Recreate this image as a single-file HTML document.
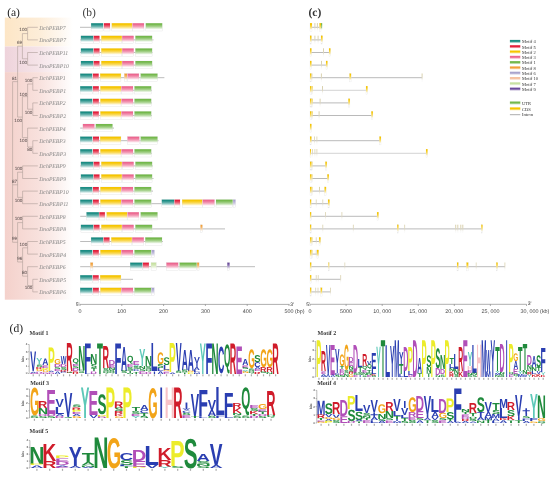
<!DOCTYPE html><html><head><meta charset="utf-8"><style>html,body{margin:0;padding:0;background:#fff;width:550px;height:478px;overflow:hidden}svg{display:block}</style></head><body>
<svg width="550" height="478" viewBox="0 0 550 478" text-rendering="geometricPrecision">
<defs><linearGradient id="gt" x1="0" y1="0" x2="0" y2="1"><stop offset="0" stop-color="#1b8c83"/><stop offset="0.14" stop-color="#1b8c83"/><stop offset="0.45" stop-color="#1b8c83" stop-opacity="0.62"/><stop offset="0.68" stop-color="#1b8c83" stop-opacity="0.22"/><stop offset="0.86" stop-color="#fff" stop-opacity="0"/></linearGradient>
<linearGradient id="gr" x1="0" y1="0" x2="0" y2="1"><stop offset="0" stop-color="#e3213d"/><stop offset="0.14" stop-color="#e3213d"/><stop offset="0.45" stop-color="#e3213d" stop-opacity="0.62"/><stop offset="0.68" stop-color="#e3213d" stop-opacity="0.22"/><stop offset="0.86" stop-color="#fff" stop-opacity="0"/></linearGradient>
<linearGradient id="gy" x1="0" y1="0" x2="0" y2="1"><stop offset="0" stop-color="#f6c500"/><stop offset="0.14" stop-color="#f6c500"/><stop offset="0.45" stop-color="#f6c500" stop-opacity="0.62"/><stop offset="0.68" stop-color="#f6c500" stop-opacity="0.22"/><stop offset="0.86" stop-color="#fff" stop-opacity="0"/></linearGradient>
<linearGradient id="gp" x1="0" y1="0" x2="0" y2="1"><stop offset="0" stop-color="#ec6790"/><stop offset="0.14" stop-color="#ec6790"/><stop offset="0.45" stop-color="#ec6790" stop-opacity="0.62"/><stop offset="0.68" stop-color="#ec6790" stop-opacity="0.22"/><stop offset="0.86" stop-color="#fff" stop-opacity="0"/></linearGradient>
<linearGradient id="gg" x1="0" y1="0" x2="0" y2="1"><stop offset="0" stop-color="#74b84c"/><stop offset="0.14" stop-color="#74b84c"/><stop offset="0.45" stop-color="#74b84c" stop-opacity="0.62"/><stop offset="0.68" stop-color="#74b84c" stop-opacity="0.22"/><stop offset="0.86" stop-color="#fff" stop-opacity="0"/></linearGradient>
<linearGradient id="go" x1="0" y1="0" x2="0" y2="1"><stop offset="0" stop-color="#f2a03a"/><stop offset="0.14" stop-color="#f2a03a"/><stop offset="0.45" stop-color="#f2a03a" stop-opacity="0.62"/><stop offset="0.68" stop-color="#f2a03a" stop-opacity="0.22"/><stop offset="0.86" stop-color="#fff" stop-opacity="0"/></linearGradient>
<linearGradient id="gl" x1="0" y1="0" x2="0" y2="1"><stop offset="0" stop-color="#a9a3cd"/><stop offset="0.14" stop-color="#a9a3cd"/><stop offset="0.45" stop-color="#a9a3cd" stop-opacity="0.62"/><stop offset="0.68" stop-color="#a9a3cd" stop-opacity="0.22"/><stop offset="0.86" stop-color="#fff" stop-opacity="0"/></linearGradient>
<linearGradient id="gc" x1="0" y1="0" x2="0" y2="1"><stop offset="0" stop-color="#f6c2a3"/><stop offset="0.14" stop-color="#f6c2a3"/><stop offset="0.45" stop-color="#f6c2a3" stop-opacity="0.62"/><stop offset="0.68" stop-color="#f6c2a3" stop-opacity="0.22"/><stop offset="0.86" stop-color="#fff" stop-opacity="0"/></linearGradient>
<linearGradient id="gq" x1="0" y1="0" x2="0" y2="1"><stop offset="0" stop-color="#c7e1a3"/><stop offset="0.14" stop-color="#c7e1a3"/><stop offset="0.45" stop-color="#c7e1a3" stop-opacity="0.62"/><stop offset="0.68" stop-color="#c7e1a3" stop-opacity="0.22"/><stop offset="0.86" stop-color="#fff" stop-opacity="0"/></linearGradient>
<linearGradient id="gu" x1="0" y1="0" x2="0" y2="1"><stop offset="0" stop-color="#6a4c9c"/><stop offset="0.14" stop-color="#6a4c9c"/><stop offset="0.45" stop-color="#6a4c9c" stop-opacity="0.62"/><stop offset="0.68" stop-color="#6a4c9c" stop-opacity="0.22"/><stop offset="0.86" stop-color="#fff" stop-opacity="0"/></linearGradient><linearGradient id="st" x1="0" y1="0" x2="0" y2="1"><stop offset="0" stop-color="#1b8c83"/><stop offset="0.4" stop-color="#1b8c83"/><stop offset="0.75" stop-color="#1b8c83" stop-opacity="0.35"/><stop offset="1" stop-color="#fff" stop-opacity="0"/></linearGradient>
<linearGradient id="sr" x1="0" y1="0" x2="0" y2="1"><stop offset="0" stop-color="#e3213d"/><stop offset="0.4" stop-color="#e3213d"/><stop offset="0.75" stop-color="#e3213d" stop-opacity="0.35"/><stop offset="1" stop-color="#fff" stop-opacity="0"/></linearGradient>
<linearGradient id="sy" x1="0" y1="0" x2="0" y2="1"><stop offset="0" stop-color="#f6c500"/><stop offset="0.4" stop-color="#f6c500"/><stop offset="0.75" stop-color="#f6c500" stop-opacity="0.35"/><stop offset="1" stop-color="#fff" stop-opacity="0"/></linearGradient>
<linearGradient id="sp" x1="0" y1="0" x2="0" y2="1"><stop offset="0" stop-color="#ec6790"/><stop offset="0.4" stop-color="#ec6790"/><stop offset="0.75" stop-color="#ec6790" stop-opacity="0.35"/><stop offset="1" stop-color="#fff" stop-opacity="0"/></linearGradient>
<linearGradient id="sg" x1="0" y1="0" x2="0" y2="1"><stop offset="0" stop-color="#74b84c"/><stop offset="0.4" stop-color="#74b84c"/><stop offset="0.75" stop-color="#74b84c" stop-opacity="0.35"/><stop offset="1" stop-color="#fff" stop-opacity="0"/></linearGradient>
<linearGradient id="so" x1="0" y1="0" x2="0" y2="1"><stop offset="0" stop-color="#f2a03a"/><stop offset="0.4" stop-color="#f2a03a"/><stop offset="0.75" stop-color="#f2a03a" stop-opacity="0.35"/><stop offset="1" stop-color="#fff" stop-opacity="0"/></linearGradient>
<linearGradient id="sl" x1="0" y1="0" x2="0" y2="1"><stop offset="0" stop-color="#a9a3cd"/><stop offset="0.4" stop-color="#a9a3cd"/><stop offset="0.75" stop-color="#a9a3cd" stop-opacity="0.35"/><stop offset="1" stop-color="#fff" stop-opacity="0"/></linearGradient>
<linearGradient id="sc" x1="0" y1="0" x2="0" y2="1"><stop offset="0" stop-color="#f6c2a3"/><stop offset="0.4" stop-color="#f6c2a3"/><stop offset="0.75" stop-color="#f6c2a3" stop-opacity="0.35"/><stop offset="1" stop-color="#fff" stop-opacity="0"/></linearGradient>
<linearGradient id="sq" x1="0" y1="0" x2="0" y2="1"><stop offset="0" stop-color="#c7e1a3"/><stop offset="0.4" stop-color="#c7e1a3"/><stop offset="0.75" stop-color="#c7e1a3" stop-opacity="0.35"/><stop offset="1" stop-color="#fff" stop-opacity="0"/></linearGradient>
<linearGradient id="su" x1="0" y1="0" x2="0" y2="1"><stop offset="0" stop-color="#6a4c9c"/><stop offset="0.4" stop-color="#6a4c9c"/><stop offset="0.75" stop-color="#6a4c9c" stop-opacity="0.35"/><stop offset="1" stop-color="#fff" stop-opacity="0"/></linearGradient>
<linearGradient id="gpale" x1="0" y1="0" x2="0" y2="1"><stop offset="0" stop-color="#d8cfa8"/><stop offset="0.5" stop-color="#ddd6bd"/><stop offset="0.85" stop-color="#eee" stop-opacity="0.3"/></linearGradient>
<linearGradient id="bgO" x1="0" y1="0" x2="1" y2="0"><stop offset="0" stop-color="#fde6c6"/><stop offset="0.5" stop-color="#fdedd8"/><stop offset="0.78" stop-color="#fef6ec"/><stop offset="1" stop-color="#fff"/></linearGradient>
<linearGradient id="bgP" x1="0" y1="0" x2="1" y2="0"><stop offset="0" stop-color="#eed3db"/><stop offset="0.5" stop-color="#f5e4e8"/><stop offset="0.78" stop-color="#fbf3f5"/><stop offset="1" stop-color="#fff"/></linearGradient>
<linearGradient id="bgS" x1="0" y1="0" x2="1" y2="0"><stop offset="0" stop-color="#f4d1cb"/><stop offset="0.5" stop-color="#f8e1dd"/><stop offset="0.78" stop-color="#fcf1ef"/><stop offset="1" stop-color="#fff"/></linearGradient>
</defs>
<rect width="550" height="478" fill="#fff"/>
<rect x="4.8" y="17.6" width="68" height="28.9" fill="url(#bgO)"/>
<rect x="4.8" y="46.5" width="68" height="25.6" fill="url(#bgP)"/>
<rect x="4.8" y="72.1" width="68" height="227.6" fill="url(#bgS)"/>
<g stroke="#a99893" stroke-width="0.55" fill="none"><line x1="27.60" y1="27.30" x2="27.60" y2="39.90"/>
<line x1="27.60" y1="27.30" x2="37.80" y2="27.30"/>
<line x1="27.60" y1="39.90" x2="37.80" y2="39.90"/>
<line x1="27.60" y1="52.50" x2="27.60" y2="65.10"/>
<line x1="27.60" y1="52.50" x2="37.80" y2="52.50"/>
<line x1="27.60" y1="65.10" x2="37.80" y2="65.10"/>
<line x1="22.40" y1="33.60" x2="22.40" y2="58.80"/>
<line x1="22.40" y1="33.60" x2="27.60" y2="33.60"/>
<line x1="22.40" y1="58.80" x2="27.60" y2="58.80"/>
<line x1="32.80" y1="77.70" x2="32.80" y2="90.30"/>
<line x1="32.80" y1="77.70" x2="37.80" y2="77.70"/>
<line x1="32.80" y1="90.30" x2="37.80" y2="90.30"/>
<line x1="32.80" y1="102.90" x2="32.80" y2="115.50"/>
<line x1="32.80" y1="102.90" x2="37.80" y2="102.90"/>
<line x1="32.80" y1="115.50" x2="37.80" y2="115.50"/>
<line x1="27.60" y1="84.00" x2="27.60" y2="109.20"/>
<line x1="27.60" y1="84.00" x2="32.80" y2="84.00"/>
<line x1="27.60" y1="109.20" x2="32.80" y2="109.20"/>
<line x1="32.80" y1="140.70" x2="32.80" y2="153.30"/>
<line x1="32.80" y1="140.70" x2="37.80" y2="140.70"/>
<line x1="32.80" y1="153.30" x2="37.80" y2="153.30"/>
<line x1="27.60" y1="128.10" x2="27.60" y2="147.00"/>
<line x1="27.60" y1="128.10" x2="37.80" y2="128.10"/>
<line x1="27.60" y1="147.00" x2="32.80" y2="147.00"/>
<line x1="22.40" y1="96.60" x2="22.40" y2="137.55"/>
<line x1="22.40" y1="96.60" x2="27.60" y2="96.60"/>
<line x1="22.40" y1="137.55" x2="27.60" y2="137.55"/>
<line x1="17.60" y1="46.20" x2="17.60" y2="117.08"/>
<line x1="17.60" y1="46.20" x2="22.40" y2="46.20"/>
<line x1="17.60" y1="117.08" x2="22.40" y2="117.08"/>
<line x1="22.60" y1="165.90" x2="22.60" y2="178.50"/>
<line x1="22.60" y1="165.90" x2="37.80" y2="165.90"/>
<line x1="22.60" y1="178.50" x2="37.80" y2="178.50"/>
<line x1="22.60" y1="191.10" x2="22.60" y2="203.70"/>
<line x1="22.60" y1="191.10" x2="37.80" y2="191.10"/>
<line x1="22.60" y1="203.70" x2="37.80" y2="203.70"/>
<line x1="17.60" y1="172.20" x2="17.60" y2="197.40"/>
<line x1="17.60" y1="172.20" x2="22.60" y2="172.20"/>
<line x1="17.60" y1="197.40" x2="22.60" y2="197.40"/>
<line x1="22.60" y1="216.30" x2="22.60" y2="228.90"/>
<line x1="22.60" y1="216.30" x2="37.80" y2="216.30"/>
<line x1="22.60" y1="228.90" x2="37.80" y2="228.90"/>
<line x1="27.60" y1="241.50" x2="27.60" y2="254.10"/>
<line x1="27.60" y1="241.50" x2="37.80" y2="241.50"/>
<line x1="27.60" y1="254.10" x2="37.80" y2="254.10"/>
<line x1="32.80" y1="279.30" x2="32.80" y2="291.90"/>
<line x1="32.80" y1="279.30" x2="37.80" y2="279.30"/>
<line x1="32.80" y1="291.90" x2="37.80" y2="291.90"/>
<line x1="27.60" y1="266.70" x2="27.60" y2="285.60"/>
<line x1="27.60" y1="266.70" x2="37.80" y2="266.70"/>
<line x1="27.60" y1="285.60" x2="32.80" y2="285.60"/>
<line x1="22.60" y1="247.80" x2="22.60" y2="276.15"/>
<line x1="22.60" y1="247.80" x2="27.60" y2="247.80"/>
<line x1="22.60" y1="276.15" x2="27.60" y2="276.15"/>
<line x1="17.60" y1="222.60" x2="17.60" y2="261.98"/>
<line x1="17.60" y1="222.60" x2="22.60" y2="222.60"/>
<line x1="17.60" y1="261.98" x2="22.60" y2="261.98"/>
<line x1="12.60" y1="81.64" x2="12.60" y2="242.29"/>
<line x1="12.60" y1="81.64" x2="17.60" y2="81.64"/>
<line x1="12.60" y1="184.80" x2="17.60" y2="184.80"/>
<line x1="12.60" y1="242.29" x2="17.60" y2="242.29"/></g><g font-family="Liberation Sans, sans-serif" font-size="4.6" fill="#4e4444" text-anchor="end">
<text x="27.00" y="31.10">100</text>
<text x="22.00" y="44.20">69</text>
<text x="27.00" y="64.30">100</text>
<text x="17.20" y="80.14">81</text>
<text x="32.40" y="82.00">100</text>
<text x="27.20" y="96.10">100</text>
<text x="32.40" y="113.70">100</text>
<text x="22.00" y="121.58">100</text>
<text x="27.20" y="142.45">100</text>
<text x="32.40" y="151.10">80</text>
<text x="22.40" y="170.10">100</text>
<text x="17.20" y="182.90">87</text>
<text x="22.40" y="202.40">100</text>
<text x="22.40" y="220.10">100</text>
<text x="17.20" y="240.09">99</text>
<text x="27.20" y="245.60">100</text>
<text x="22.40" y="260.28">96</text>
<text x="27.20" y="273.95">80</text>
<text x="32.40" y="288.90">100</text>
</g><g font-family="Liberation Serif, serif" font-style="italic" font-size="5.75" fill="#858585">
<text x="39.2" y="29.80">DchPEBP7</text>
<text x="39.2" y="42.40">DnoPEBP7</text>
<text x="39.2" y="55.00">DchPEBP11</text>
<text x="39.2" y="67.60">DnoPEBP10</text>
<text x="39.2" y="80.20">DchPEBP1</text>
<text x="39.2" y="92.80">DnoPEBP1</text>
<text x="39.2" y="105.40">DchPEBP2</text>
<text x="39.2" y="118.00">DnoPEBP2</text>
<text x="39.2" y="130.60">DchPEBP4</text>
<text x="39.2" y="143.20">DchPEBP3</text>
<text x="39.2" y="155.80">DnoPEBP3</text>
<text x="39.2" y="168.40">DchPEBP9</text>
<text x="39.2" y="181.00">DnoPEBP9</text>
<text x="39.2" y="193.60">DchPEBP10</text>
<text x="39.2" y="206.20">DnoPEBP11</text>
<text x="39.2" y="218.80">DchPEBP8</text>
<text x="39.2" y="231.40">DnoPEBP8</text>
<text x="39.2" y="244.00">DchPEBP5</text>
<text x="39.2" y="256.60">DnoPEBP4</text>
<text x="39.2" y="269.20">DchPEBP6</text>
<text x="39.2" y="281.80">DnoPEBP5</text>
<text x="39.2" y="294.40">DnoPEBP6</text>
</g>
<line x1="80" y1="27.30" x2="91" y2="27.30" stroke="#b4b4b4" stroke-width="0.9"/>
<rect x="91.10" y="23.20" width="12.00" height="7.8" fill="#fff" stroke="#e2e2e2" stroke-width="0.4"/>
<rect x="91.10" y="23.20" width="12.00" height="7.8" fill="url(#gt)"/>
<rect x="103.90" y="23.20" width="6.10" height="7.8" fill="#fff" stroke="#e2e2e2" stroke-width="0.4"/>
<rect x="103.90" y="23.20" width="6.10" height="7.8" fill="url(#gr)"/>
<rect x="111.80" y="23.20" width="20.40" height="7.8" fill="#fff" stroke="#e2e2e2" stroke-width="0.4"/>
<rect x="111.80" y="23.20" width="20.40" height="7.8" fill="url(#gy)"/>
<rect x="132.50" y="23.20" width="11.50" height="7.8" fill="#fff" stroke="#e2e2e2" stroke-width="0.4"/>
<rect x="132.50" y="23.20" width="11.50" height="7.8" fill="url(#gp)"/>
<rect x="145.80" y="23.20" width="16.40" height="7.8" fill="#fff" stroke="#e2e2e2" stroke-width="0.4"/>
<rect x="145.80" y="23.20" width="16.40" height="7.8" fill="url(#gg)"/>
<line x1="80" y1="39.90" x2="153.5" y2="39.90" stroke="#b4b4b4" stroke-width="0.9"/>
<rect x="80.90" y="35.80" width="12.50" height="7.8" fill="#fff" stroke="#e2e2e2" stroke-width="0.4"/>
<rect x="80.90" y="35.80" width="12.50" height="7.8" fill="url(#gt)"/>
<rect x="93.70" y="35.80" width="5.80" height="7.8" fill="#fff" stroke="#e2e2e2" stroke-width="0.4"/>
<rect x="93.70" y="35.80" width="5.80" height="7.8" fill="url(#gr)"/>
<rect x="101.30" y="35.80" width="20.50" height="7.8" fill="#fff" stroke="#e2e2e2" stroke-width="0.4"/>
<rect x="101.30" y="35.80" width="20.50" height="7.8" fill="url(#gy)"/>
<rect x="122.20" y="35.80" width="11.50" height="7.8" fill="#fff" stroke="#e2e2e2" stroke-width="0.4"/>
<rect x="122.20" y="35.80" width="11.50" height="7.8" fill="url(#gp)"/>
<rect x="135.40" y="35.80" width="16.70" height="7.8" fill="#fff" stroke="#e2e2e2" stroke-width="0.4"/>
<rect x="135.40" y="35.80" width="16.70" height="7.8" fill="url(#gg)"/>
<line x1="80" y1="52.50" x2="152.5" y2="52.50" stroke="#b4b4b4" stroke-width="0.9"/>
<rect x="80.90" y="48.40" width="12.50" height="7.8" fill="#fff" stroke="#e2e2e2" stroke-width="0.4"/>
<rect x="80.90" y="48.40" width="12.50" height="7.8" fill="url(#gt)"/>
<rect x="93.70" y="48.40" width="5.80" height="7.8" fill="#fff" stroke="#e2e2e2" stroke-width="0.4"/>
<rect x="93.70" y="48.40" width="5.80" height="7.8" fill="url(#gr)"/>
<rect x="101.30" y="48.40" width="20.50" height="7.8" fill="#fff" stroke="#e2e2e2" stroke-width="0.4"/>
<rect x="101.30" y="48.40" width="20.50" height="7.8" fill="url(#gy)"/>
<rect x="122.20" y="48.40" width="11.50" height="7.8" fill="#fff" stroke="#e2e2e2" stroke-width="0.4"/>
<rect x="122.20" y="48.40" width="11.50" height="7.8" fill="url(#gp)"/>
<rect x="135.40" y="48.40" width="16.70" height="7.8" fill="#fff" stroke="#e2e2e2" stroke-width="0.4"/>
<rect x="135.40" y="48.40" width="16.70" height="7.8" fill="url(#gg)"/>
<line x1="80" y1="65.10" x2="152.5" y2="65.10" stroke="#b4b4b4" stroke-width="0.9"/>
<rect x="80.90" y="61.00" width="12.50" height="7.8" fill="#fff" stroke="#e2e2e2" stroke-width="0.4"/>
<rect x="80.90" y="61.00" width="12.50" height="7.8" fill="url(#gt)"/>
<rect x="93.70" y="61.00" width="5.80" height="7.8" fill="#fff" stroke="#e2e2e2" stroke-width="0.4"/>
<rect x="93.70" y="61.00" width="5.80" height="7.8" fill="url(#gr)"/>
<rect x="101.30" y="61.00" width="20.50" height="7.8" fill="#fff" stroke="#e2e2e2" stroke-width="0.4"/>
<rect x="101.30" y="61.00" width="20.50" height="7.8" fill="url(#gy)"/>
<rect x="122.20" y="61.00" width="11.50" height="7.8" fill="#fff" stroke="#e2e2e2" stroke-width="0.4"/>
<rect x="122.20" y="61.00" width="11.50" height="7.8" fill="url(#gp)"/>
<rect x="135.40" y="61.00" width="16.70" height="7.8" fill="#fff" stroke="#e2e2e2" stroke-width="0.4"/>
<rect x="135.40" y="61.00" width="16.70" height="7.8" fill="url(#gg)"/>
<line x1="80" y1="77.70" x2="164.4" y2="77.70" stroke="#b4b4b4" stroke-width="0.9"/>
<rect x="80.20" y="73.60" width="12.00" height="7.8" fill="#fff" stroke="#e2e2e2" stroke-width="0.4"/>
<rect x="80.20" y="73.60" width="12.00" height="7.8" fill="url(#gt)"/>
<rect x="92.90" y="73.60" width="5.80" height="7.8" fill="#fff" stroke="#e2e2e2" stroke-width="0.4"/>
<rect x="92.90" y="73.60" width="5.80" height="7.8" fill="url(#gr)"/>
<rect x="100.20" y="73.60" width="20.70" height="7.8" fill="#fff" stroke="#e2e2e2" stroke-width="0.4"/>
<rect x="100.20" y="73.60" width="20.70" height="7.8" fill="url(#gy)"/>
<rect x="124.40" y="73.60" width="2.60" height="7.8" fill="#fff" stroke="#e2e2e2" stroke-width="0.4"/>
<rect x="124.40" y="73.60" width="2.60" height="7.8" fill="url(#go)"/>
<rect x="127.50" y="73.60" width="11.40" height="7.8" fill="#fff" stroke="#e2e2e2" stroke-width="0.4"/>
<rect x="127.50" y="73.60" width="11.40" height="7.8" fill="url(#gp)"/>
<rect x="140.70" y="73.60" width="16.80" height="7.8" fill="#fff" stroke="#e2e2e2" stroke-width="0.4"/>
<rect x="140.70" y="73.60" width="16.80" height="7.8" fill="url(#gg)"/>
<line x1="80" y1="90.30" x2="152" y2="90.30" stroke="#b4b4b4" stroke-width="0.9"/>
<rect x="80.20" y="86.20" width="12.10" height="7.8" fill="#fff" stroke="#e2e2e2" stroke-width="0.4"/>
<rect x="80.20" y="86.20" width="12.10" height="7.8" fill="url(#gt)"/>
<rect x="93.00" y="86.20" width="5.80" height="7.8" fill="#fff" stroke="#e2e2e2" stroke-width="0.4"/>
<rect x="93.00" y="86.20" width="5.80" height="7.8" fill="url(#gr)"/>
<rect x="100.40" y="86.20" width="20.60" height="7.8" fill="#fff" stroke="#e2e2e2" stroke-width="0.4"/>
<rect x="100.40" y="86.20" width="20.60" height="7.8" fill="url(#gy)"/>
<rect x="121.40" y="86.20" width="11.60" height="7.8" fill="#fff" stroke="#e2e2e2" stroke-width="0.4"/>
<rect x="121.40" y="86.20" width="11.60" height="7.8" fill="url(#gp)"/>
<rect x="134.50" y="86.20" width="16.70" height="7.8" fill="#fff" stroke="#e2e2e2" stroke-width="0.4"/>
<rect x="134.50" y="86.20" width="16.70" height="7.8" fill="url(#gg)"/>
<line x1="80" y1="102.90" x2="152" y2="102.90" stroke="#b4b4b4" stroke-width="0.9"/>
<rect x="80.20" y="98.80" width="12.10" height="7.8" fill="#fff" stroke="#e2e2e2" stroke-width="0.4"/>
<rect x="80.20" y="98.80" width="12.10" height="7.8" fill="url(#gt)"/>
<rect x="93.00" y="98.80" width="5.80" height="7.8" fill="#fff" stroke="#e2e2e2" stroke-width="0.4"/>
<rect x="93.00" y="98.80" width="5.80" height="7.8" fill="url(#gr)"/>
<rect x="100.40" y="98.80" width="20.60" height="7.8" fill="#fff" stroke="#e2e2e2" stroke-width="0.4"/>
<rect x="100.40" y="98.80" width="20.60" height="7.8" fill="url(#gy)"/>
<rect x="121.40" y="98.80" width="11.60" height="7.8" fill="#fff" stroke="#e2e2e2" stroke-width="0.4"/>
<rect x="121.40" y="98.80" width="11.60" height="7.8" fill="url(#gp)"/>
<rect x="134.50" y="98.80" width="16.70" height="7.8" fill="#fff" stroke="#e2e2e2" stroke-width="0.4"/>
<rect x="134.50" y="98.80" width="16.70" height="7.8" fill="url(#gg)"/>
<line x1="80" y1="115.50" x2="152" y2="115.50" stroke="#b4b4b4" stroke-width="0.9"/>
<rect x="80.20" y="111.40" width="12.10" height="7.8" fill="#fff" stroke="#e2e2e2" stroke-width="0.4"/>
<rect x="80.20" y="111.40" width="12.10" height="7.8" fill="url(#gt)"/>
<rect x="93.00" y="111.40" width="5.80" height="7.8" fill="#fff" stroke="#e2e2e2" stroke-width="0.4"/>
<rect x="93.00" y="111.40" width="5.80" height="7.8" fill="url(#gr)"/>
<rect x="100.40" y="111.40" width="20.60" height="7.8" fill="#fff" stroke="#e2e2e2" stroke-width="0.4"/>
<rect x="100.40" y="111.40" width="20.60" height="7.8" fill="url(#gy)"/>
<rect x="121.40" y="111.40" width="11.60" height="7.8" fill="#fff" stroke="#e2e2e2" stroke-width="0.4"/>
<rect x="121.40" y="111.40" width="11.60" height="7.8" fill="url(#gp)"/>
<rect x="134.50" y="111.40" width="16.70" height="7.8" fill="#fff" stroke="#e2e2e2" stroke-width="0.4"/>
<rect x="134.50" y="111.40" width="16.70" height="7.8" fill="url(#gg)"/>
<line x1="80.2" y1="128.10" x2="114" y2="128.10" stroke="#b4b4b4" stroke-width="0.9"/>
<rect x="82.90" y="124.00" width="11.50" height="7.8" fill="#fff" stroke="#e2e2e2" stroke-width="0.4"/>
<rect x="82.90" y="124.00" width="11.50" height="7.8" fill="url(#gp)"/>
<rect x="95.80" y="124.00" width="16.70" height="7.8" fill="#fff" stroke="#e2e2e2" stroke-width="0.4"/>
<rect x="95.80" y="124.00" width="16.70" height="7.8" fill="url(#gg)"/>
<line x1="80" y1="140.70" x2="158.5" y2="140.70" stroke="#b4b4b4" stroke-width="0.9"/>
<rect x="80.20" y="136.60" width="12.00" height="7.8" fill="#fff" stroke="#e2e2e2" stroke-width="0.4"/>
<rect x="80.20" y="136.60" width="12.00" height="7.8" fill="url(#gt)"/>
<rect x="93.00" y="136.60" width="6.00" height="7.8" fill="#fff" stroke="#e2e2e2" stroke-width="0.4"/>
<rect x="93.00" y="136.60" width="6.00" height="7.8" fill="url(#gr)"/>
<rect x="100.20" y="136.60" width="20.70" height="7.8" fill="#fff" stroke="#e2e2e2" stroke-width="0.4"/>
<rect x="100.20" y="136.60" width="20.70" height="7.8" fill="url(#gy)"/>
<rect x="127.50" y="136.60" width="11.80" height="7.8" fill="#fff" stroke="#e2e2e2" stroke-width="0.4"/>
<rect x="127.50" y="136.60" width="11.80" height="7.8" fill="url(#gp)"/>
<rect x="140.70" y="136.60" width="16.80" height="7.8" fill="#fff" stroke="#e2e2e2" stroke-width="0.4"/>
<rect x="140.70" y="136.60" width="16.80" height="7.8" fill="url(#gg)"/>
<line x1="80" y1="153.30" x2="152" y2="153.30" stroke="#b4b4b4" stroke-width="0.9"/>
<rect x="80.20" y="149.20" width="12.10" height="7.8" fill="#fff" stroke="#e2e2e2" stroke-width="0.4"/>
<rect x="80.20" y="149.20" width="12.10" height="7.8" fill="url(#gt)"/>
<rect x="93.00" y="149.20" width="5.80" height="7.8" fill="#fff" stroke="#e2e2e2" stroke-width="0.4"/>
<rect x="93.00" y="149.20" width="5.80" height="7.8" fill="url(#gr)"/>
<rect x="100.40" y="149.20" width="20.60" height="7.8" fill="#fff" stroke="#e2e2e2" stroke-width="0.4"/>
<rect x="100.40" y="149.20" width="20.60" height="7.8" fill="url(#gy)"/>
<rect x="121.40" y="149.20" width="11.60" height="7.8" fill="#fff" stroke="#e2e2e2" stroke-width="0.4"/>
<rect x="121.40" y="149.20" width="11.60" height="7.8" fill="url(#gp)"/>
<rect x="134.50" y="149.20" width="16.70" height="7.8" fill="#fff" stroke="#e2e2e2" stroke-width="0.4"/>
<rect x="134.50" y="149.20" width="16.70" height="7.8" fill="url(#gg)"/>
<line x1="80" y1="165.90" x2="153" y2="165.90" stroke="#b4b4b4" stroke-width="0.9"/>
<rect x="80.90" y="161.80" width="12.50" height="7.8" fill="#fff" stroke="#e2e2e2" stroke-width="0.4"/>
<rect x="80.90" y="161.80" width="12.50" height="7.8" fill="url(#gt)"/>
<rect x="93.70" y="161.80" width="5.80" height="7.8" fill="#fff" stroke="#e2e2e2" stroke-width="0.4"/>
<rect x="93.70" y="161.80" width="5.80" height="7.8" fill="url(#gr)"/>
<rect x="101.30" y="161.80" width="20.50" height="7.8" fill="#fff" stroke="#e2e2e2" stroke-width="0.4"/>
<rect x="101.30" y="161.80" width="20.50" height="7.8" fill="url(#gy)"/>
<rect x="122.20" y="161.80" width="11.50" height="7.8" fill="#fff" stroke="#e2e2e2" stroke-width="0.4"/>
<rect x="122.20" y="161.80" width="11.50" height="7.8" fill="url(#gp)"/>
<rect x="135.40" y="161.80" width="16.70" height="7.8" fill="#fff" stroke="#e2e2e2" stroke-width="0.4"/>
<rect x="135.40" y="161.80" width="16.70" height="7.8" fill="url(#gg)"/>
<line x1="80" y1="178.50" x2="153.5" y2="178.50" stroke="#b4b4b4" stroke-width="0.9"/>
<rect x="80.90" y="174.40" width="12.50" height="7.8" fill="#fff" stroke="#e2e2e2" stroke-width="0.4"/>
<rect x="80.90" y="174.40" width="12.50" height="7.8" fill="url(#gt)"/>
<rect x="93.70" y="174.40" width="5.80" height="7.8" fill="#fff" stroke="#e2e2e2" stroke-width="0.4"/>
<rect x="93.70" y="174.40" width="5.80" height="7.8" fill="url(#gr)"/>
<rect x="101.30" y="174.40" width="20.50" height="7.8" fill="#fff" stroke="#e2e2e2" stroke-width="0.4"/>
<rect x="101.30" y="174.40" width="20.50" height="7.8" fill="url(#gy)"/>
<rect x="122.20" y="174.40" width="11.50" height="7.8" fill="#fff" stroke="#e2e2e2" stroke-width="0.4"/>
<rect x="122.20" y="174.40" width="11.50" height="7.8" fill="url(#gp)"/>
<rect x="135.40" y="174.40" width="16.70" height="7.8" fill="#fff" stroke="#e2e2e2" stroke-width="0.4"/>
<rect x="135.40" y="174.40" width="16.70" height="7.8" fill="url(#gg)"/>
<line x1="80" y1="191.10" x2="153" y2="191.10" stroke="#b4b4b4" stroke-width="0.9"/>
<rect x="80.20" y="187.00" width="12.10" height="7.8" fill="#fff" stroke="#e2e2e2" stroke-width="0.4"/>
<rect x="80.20" y="187.00" width="12.10" height="7.8" fill="url(#gt)"/>
<rect x="93.00" y="187.00" width="5.80" height="7.8" fill="#fff" stroke="#e2e2e2" stroke-width="0.4"/>
<rect x="93.00" y="187.00" width="5.80" height="7.8" fill="url(#gr)"/>
<rect x="100.40" y="187.00" width="20.60" height="7.8" fill="#fff" stroke="#e2e2e2" stroke-width="0.4"/>
<rect x="100.40" y="187.00" width="20.60" height="7.8" fill="url(#gy)"/>
<rect x="121.40" y="187.00" width="11.60" height="7.8" fill="#fff" stroke="#e2e2e2" stroke-width="0.4"/>
<rect x="121.40" y="187.00" width="11.60" height="7.8" fill="url(#gp)"/>
<rect x="134.50" y="187.00" width="16.70" height="7.8" fill="#fff" stroke="#e2e2e2" stroke-width="0.4"/>
<rect x="134.50" y="187.00" width="16.70" height="7.8" fill="url(#gg)"/>
<line x1="80" y1="203.70" x2="161.8" y2="203.70" stroke="#b4b4b4" stroke-width="0.9"/>
<rect x="80.20" y="199.60" width="12.10" height="7.8" fill="#fff" stroke="#e2e2e2" stroke-width="0.4"/>
<rect x="80.20" y="199.60" width="12.10" height="7.8" fill="url(#gt)"/>
<rect x="93.00" y="199.60" width="5.80" height="7.8" fill="#fff" stroke="#e2e2e2" stroke-width="0.4"/>
<rect x="93.00" y="199.60" width="5.80" height="7.8" fill="url(#gr)"/>
<rect x="100.40" y="199.60" width="20.60" height="7.8" fill="#fff" stroke="#e2e2e2" stroke-width="0.4"/>
<rect x="100.40" y="199.60" width="20.60" height="7.8" fill="url(#gy)"/>
<rect x="121.40" y="199.60" width="11.60" height="7.8" fill="#fff" stroke="#e2e2e2" stroke-width="0.4"/>
<rect x="121.40" y="199.60" width="11.60" height="7.8" fill="url(#gp)"/>
<rect x="134.50" y="199.60" width="16.70" height="7.8" fill="#fff" stroke="#e2e2e2" stroke-width="0.4"/>
<rect x="134.50" y="199.60" width="16.70" height="7.8" fill="url(#gg)"/>
<rect x="161.80" y="199.60" width="12.40" height="7.8" fill="#fff" stroke="#e2e2e2" stroke-width="0.4"/>
<rect x="161.80" y="199.60" width="12.40" height="7.8" fill="url(#gt)"/>
<rect x="174.50" y="199.60" width="5.50" height="7.8" fill="#fff" stroke="#e2e2e2" stroke-width="0.4"/>
<rect x="174.50" y="199.60" width="5.50" height="7.8" fill="url(#gr)"/>
<rect x="182.20" y="199.60" width="20.20" height="7.8" fill="#fff" stroke="#e2e2e2" stroke-width="0.4"/>
<rect x="182.20" y="199.60" width="20.20" height="7.8" fill="url(#gy)"/>
<rect x="202.70" y="199.60" width="11.80" height="7.8" fill="#fff" stroke="#e2e2e2" stroke-width="0.4"/>
<rect x="202.70" y="199.60" width="11.80" height="7.8" fill="url(#gp)"/>
<rect x="216.00" y="199.60" width="16.70" height="7.8" fill="#fff" stroke="#e2e2e2" stroke-width="0.4"/>
<rect x="216.00" y="199.60" width="16.70" height="7.8" fill="url(#gg)"/>
<rect x="233.10" y="199.60" width="2.40" height="7.8" fill="#fff" stroke="#e2e2e2" stroke-width="0.4"/>
<rect x="233.10" y="199.60" width="2.40" height="7.8" fill="url(#gl)"/>
<line x1="80.2" y1="216.30" x2="86.5" y2="216.30" stroke="#b4b4b4" stroke-width="0.9"/>
<rect x="86.50" y="212.20" width="12.40" height="7.8" fill="#fff" stroke="#e2e2e2" stroke-width="0.4"/>
<rect x="86.50" y="212.20" width="12.40" height="7.8" fill="url(#gt)"/>
<rect x="99.30" y="212.20" width="5.60" height="7.8" fill="#fff" stroke="#e2e2e2" stroke-width="0.4"/>
<rect x="99.30" y="212.20" width="5.60" height="7.8" fill="url(#gr)"/>
<rect x="106.70" y="212.20" width="20.40" height="7.8" fill="#fff" stroke="#e2e2e2" stroke-width="0.4"/>
<rect x="106.70" y="212.20" width="20.40" height="7.8" fill="url(#gy)"/>
<rect x="127.50" y="212.20" width="11.40" height="7.8" fill="#fff" stroke="#e2e2e2" stroke-width="0.4"/>
<rect x="127.50" y="212.20" width="11.40" height="7.8" fill="url(#gp)"/>
<rect x="140.70" y="212.20" width="16.80" height="7.8" fill="#fff" stroke="#e2e2e2" stroke-width="0.4"/>
<rect x="140.70" y="212.20" width="16.80" height="7.8" fill="url(#gg)"/>
<line x1="80" y1="228.90" x2="225" y2="228.90" stroke="#b4b4b4" stroke-width="0.9"/>
<rect x="80.90" y="224.80" width="12.50" height="7.8" fill="#fff" stroke="#e2e2e2" stroke-width="0.4"/>
<rect x="80.90" y="224.80" width="12.50" height="7.8" fill="url(#gt)"/>
<rect x="93.70" y="224.80" width="5.80" height="7.8" fill="#fff" stroke="#e2e2e2" stroke-width="0.4"/>
<rect x="93.70" y="224.80" width="5.80" height="7.8" fill="url(#gr)"/>
<rect x="101.30" y="224.80" width="20.50" height="7.8" fill="#fff" stroke="#e2e2e2" stroke-width="0.4"/>
<rect x="101.30" y="224.80" width="20.50" height="7.8" fill="url(#gy)"/>
<rect x="122.20" y="224.80" width="11.50" height="7.8" fill="#fff" stroke="#e2e2e2" stroke-width="0.4"/>
<rect x="122.20" y="224.80" width="11.50" height="7.8" fill="url(#gp)"/>
<rect x="135.40" y="224.80" width="16.70" height="7.8" fill="#fff" stroke="#e2e2e2" stroke-width="0.4"/>
<rect x="135.40" y="224.80" width="16.70" height="7.8" fill="url(#gg)"/>
<rect x="200.50" y="224.80" width="1.90" height="7.8" fill="#fff" stroke="#e2e2e2" stroke-width="0.4"/>
<rect x="200.50" y="224.80" width="1.90" height="7.8" fill="url(#go)"/>
<line x1="80.2" y1="241.50" x2="163" y2="241.50" stroke="#b4b4b4" stroke-width="0.9"/>
<rect x="91.10" y="237.40" width="12.00" height="7.8" fill="#fff" stroke="#e2e2e2" stroke-width="0.4"/>
<rect x="91.10" y="237.40" width="12.00" height="7.8" fill="url(#gt)"/>
<rect x="103.60" y="237.40" width="5.90" height="7.8" fill="#fff" stroke="#e2e2e2" stroke-width="0.4"/>
<rect x="103.60" y="237.40" width="5.90" height="7.8" fill="url(#gr)"/>
<rect x="111.30" y="237.40" width="20.50" height="7.8" fill="#fff" stroke="#e2e2e2" stroke-width="0.4"/>
<rect x="111.30" y="237.40" width="20.50" height="7.8" fill="url(#gy)"/>
<rect x="132.20" y="237.40" width="11.60" height="7.8" fill="#fff" stroke="#e2e2e2" stroke-width="0.4"/>
<rect x="132.20" y="237.40" width="11.60" height="7.8" fill="url(#gp)"/>
<rect x="145.30" y="237.40" width="16.70" height="7.8" fill="#fff" stroke="#e2e2e2" stroke-width="0.4"/>
<rect x="145.30" y="237.40" width="16.70" height="7.8" fill="url(#gg)"/>
<line x1="80" y1="254.10" x2="152" y2="254.10" stroke="#b4b4b4" stroke-width="0.9"/>
<rect x="80.20" y="250.00" width="12.10" height="7.8" fill="#fff" stroke="#e2e2e2" stroke-width="0.4"/>
<rect x="80.20" y="250.00" width="12.10" height="7.8" fill="url(#gt)"/>
<rect x="93.00" y="250.00" width="5.80" height="7.8" fill="#fff" stroke="#e2e2e2" stroke-width="0.4"/>
<rect x="93.00" y="250.00" width="5.80" height="7.8" fill="url(#gr)"/>
<rect x="100.40" y="250.00" width="20.60" height="7.8" fill="#fff" stroke="#e2e2e2" stroke-width="0.4"/>
<rect x="100.40" y="250.00" width="20.60" height="7.8" fill="url(#gy)"/>
<rect x="121.40" y="250.00" width="11.60" height="7.8" fill="#fff" stroke="#e2e2e2" stroke-width="0.4"/>
<rect x="121.40" y="250.00" width="11.60" height="7.8" fill="url(#gp)"/>
<rect x="134.50" y="250.00" width="16.70" height="7.8" fill="#fff" stroke="#e2e2e2" stroke-width="0.4"/>
<rect x="134.50" y="250.00" width="16.70" height="7.8" fill="url(#gg)"/>
<rect x="151.60" y="250.00" width="2.80" height="7.8" fill="#fff" stroke="#e2e2e2" stroke-width="0.4"/>
<rect x="151.60" y="250.00" width="2.80" height="7.8" fill="url(#gl)"/>
<line x1="80.2" y1="266.70" x2="255" y2="266.70" stroke="#b4b4b4" stroke-width="0.9"/>
<rect x="90.40" y="262.60" width="2.50" height="7.8" fill="#fff" stroke="#e2e2e2" stroke-width="0.4"/>
<rect x="90.40" y="262.60" width="2.50" height="7.8" fill="url(#go)"/>
<rect x="130.20" y="262.60" width="12.30" height="7.8" fill="#fff" stroke="#e2e2e2" stroke-width="0.4"/>
<rect x="130.20" y="262.60" width="12.30" height="7.8" fill="url(#gt)"/>
<rect x="142.90" y="262.60" width="6.00" height="7.8" fill="#fff" stroke="#e2e2e2" stroke-width="0.4"/>
<rect x="142.90" y="262.60" width="6.00" height="7.8" fill="url(#gr)"/>
<rect x="151.10" y="262.60" width="5.10" height="7.8" fill="#fff" stroke="#e2e2e2" stroke-width="0.4"/>
<rect x="151.10" y="262.60" width="5.10" height="7.8" fill="url(#gq)"/>
<rect x="166.40" y="262.60" width="11.80" height="7.8" fill="#fff" stroke="#e2e2e2" stroke-width="0.4"/>
<rect x="166.40" y="262.60" width="11.80" height="7.8" fill="url(#gp)"/>
<rect x="179.60" y="262.60" width="17.10" height="7.8" fill="#fff" stroke="#e2e2e2" stroke-width="0.4"/>
<rect x="179.60" y="262.60" width="17.10" height="7.8" fill="url(#gg)"/>
<rect x="197.10" y="262.60" width="2.00" height="7.8" fill="#fff" stroke="#e2e2e2" stroke-width="0.4"/>
<rect x="197.10" y="262.60" width="2.00" height="7.8" fill="url(#go)"/>
<rect x="227.30" y="262.60" width="2.30" height="7.8" fill="#fff" stroke="#e2e2e2" stroke-width="0.4"/>
<rect x="227.30" y="262.60" width="2.30" height="7.8" fill="url(#gu)"/>
<line x1="80" y1="279.30" x2="133" y2="279.30" stroke="#b4b4b4" stroke-width="0.9"/>
<rect x="80.20" y="275.20" width="12.20" height="7.8" fill="#fff" stroke="#e2e2e2" stroke-width="0.4"/>
<rect x="80.20" y="275.20" width="12.20" height="7.8" fill="url(#gt)"/>
<rect x="92.90" y="275.20" width="5.80" height="7.8" fill="#fff" stroke="#e2e2e2" stroke-width="0.4"/>
<rect x="92.90" y="275.20" width="5.80" height="7.8" fill="url(#gr)"/>
<rect x="100.20" y="275.20" width="20.70" height="7.8" fill="#fff" stroke="#e2e2e2" stroke-width="0.4"/>
<rect x="100.20" y="275.20" width="20.70" height="7.8" fill="url(#gy)"/>
<line x1="80" y1="291.90" x2="152" y2="291.90" stroke="#b4b4b4" stroke-width="0.9"/>
<rect x="80.20" y="287.80" width="12.10" height="7.8" fill="#fff" stroke="#e2e2e2" stroke-width="0.4"/>
<rect x="80.20" y="287.80" width="12.10" height="7.8" fill="url(#gt)"/>
<rect x="93.00" y="287.80" width="5.80" height="7.8" fill="#fff" stroke="#e2e2e2" stroke-width="0.4"/>
<rect x="93.00" y="287.80" width="5.80" height="7.8" fill="url(#gr)"/>
<rect x="100.40" y="287.80" width="20.60" height="7.8" fill="#fff" stroke="#e2e2e2" stroke-width="0.4"/>
<rect x="100.40" y="287.80" width="20.60" height="7.8" fill="url(#gy)"/>
<rect x="121.40" y="287.80" width="11.60" height="7.8" fill="#fff" stroke="#e2e2e2" stroke-width="0.4"/>
<rect x="121.40" y="287.80" width="11.60" height="7.8" fill="url(#gp)"/>
<rect x="134.50" y="287.80" width="16.70" height="7.8" fill="#fff" stroke="#e2e2e2" stroke-width="0.4"/>
<rect x="134.50" y="287.80" width="16.70" height="7.8" fill="url(#gg)"/>
<rect x="151.50" y="287.80" width="2.70" height="7.8" fill="#fff" stroke="#e2e2e2" stroke-width="0.4"/>
<rect x="151.50" y="287.80" width="2.70" height="7.8" fill="url(#gl)"/>
<line x1="310" y1="27.30" x2="322" y2="27.30" stroke="#b2b2b2" stroke-width="0.9"/>
<rect x="310.00" y="23.10" width="2" height="8.4" fill="#fff" stroke="#e2e2e2" stroke-width="0.3"/>
<rect x="310.00" y="23.10" width="2" height="8.4" fill="url(#gy)"/>
<rect x="314.40" y="23.10" width="1" height="8.4" fill="url(#gpale)"/>
<rect x="316.90" y="23.10" width="1" height="8.4" fill="url(#gpale)"/>
<rect x="319.40" y="23.10" width="1.6" height="8.4" fill="#fff" stroke="#e2e2e2" stroke-width="0.3"/>
<rect x="319.40" y="23.10" width="1.6" height="8.4" fill="url(#gy)"/>
<rect x="321.00" y="23.10" width="1.2" height="8.4" fill="url(#gg)"/>
<line x1="310" y1="39.90" x2="322.5" y2="39.90" stroke="#b2b2b2" stroke-width="0.9"/>
<rect x="310.00" y="35.70" width="1.5" height="8.4" fill="#fff" stroke="#e2e2e2" stroke-width="0.3"/>
<rect x="310.00" y="35.70" width="1.5" height="8.4" fill="url(#gy)"/>
<rect x="314.40" y="35.70" width="1" height="8.4" fill="url(#gpale)"/>
<rect x="317.60" y="35.70" width="1" height="8.4" fill="url(#gpale)"/>
<rect x="321.00" y="35.70" width="1.6" height="8.4" fill="#fff" stroke="#e2e2e2" stroke-width="0.3"/>
<rect x="321.00" y="35.70" width="1.6" height="8.4" fill="url(#gy)"/>
<line x1="310" y1="52.50" x2="329.5" y2="52.50" stroke="#b2b2b2" stroke-width="0.9"/>
<rect x="310.00" y="48.30" width="1.5" height="8.4" fill="#fff" stroke="#e2e2e2" stroke-width="0.3"/>
<rect x="310.00" y="48.30" width="1.5" height="8.4" fill="url(#gy)"/>
<rect x="323.00" y="48.30" width="1" height="8.4" fill="url(#gpale)"/>
<rect x="329.00" y="48.30" width="1.5" height="8.4" fill="#fff" stroke="#e2e2e2" stroke-width="0.3"/>
<rect x="329.00" y="48.30" width="1.5" height="8.4" fill="url(#gy)"/>
<line x1="310" y1="65.10" x2="326.6" y2="65.10" stroke="#b2b2b2" stroke-width="0.9"/>
<rect x="310.00" y="60.90" width="1.5" height="8.4" fill="#fff" stroke="#e2e2e2" stroke-width="0.3"/>
<rect x="310.00" y="60.90" width="1.5" height="8.4" fill="url(#gy)"/>
<rect x="321.00" y="60.90" width="1" height="8.4" fill="url(#gpale)"/>
<rect x="326.00" y="60.90" width="1.5" height="8.4" fill="#fff" stroke="#e2e2e2" stroke-width="0.3"/>
<rect x="326.00" y="60.90" width="1.5" height="8.4" fill="url(#gy)"/>
<line x1="310" y1="77.70" x2="422" y2="77.70" stroke="#b2b2b2" stroke-width="0.9"/>
<rect x="310.00" y="73.50" width="1.5" height="8.4" fill="#fff" stroke="#e2e2e2" stroke-width="0.3"/>
<rect x="310.00" y="73.50" width="1.5" height="8.4" fill="url(#gy)"/>
<rect x="311.60" y="73.50" width="0.8" height="8.4" fill="url(#gpale)"/>
<rect x="320.90" y="73.50" width="1" height="8.4" fill="url(#gpale)"/>
<rect x="349.50" y="73.50" width="1.6" height="8.4" fill="#fff" stroke="#e2e2e2" stroke-width="0.3"/>
<rect x="349.50" y="73.50" width="1.6" height="8.4" fill="url(#gy)"/>
<rect x="421.60" y="73.50" width="1" height="8.4" fill="url(#gpale)"/>
<line x1="310" y1="90.30" x2="366.7" y2="90.30" stroke="#cfcfcf" stroke-width="0.9"/>
<rect x="310.00" y="86.10" width="1.3" height="8.4" fill="#fff" stroke="#e2e2e2" stroke-width="0.3"/>
<rect x="310.00" y="86.10" width="1.3" height="8.4" fill="url(#gy)"/>
<rect x="311.60" y="86.10" width="0.9" height="8.4" fill="#fff" stroke="#e2e2e2" stroke-width="0.3"/>
<rect x="311.60" y="86.10" width="0.9" height="8.4" fill="url(#gy)"/>
<rect x="322.00" y="86.10" width="1" height="8.4" fill="url(#gpale)"/>
<rect x="366.00" y="86.10" width="1.6" height="8.4" fill="#fff" stroke="#e2e2e2" stroke-width="0.3"/>
<rect x="366.00" y="86.10" width="1.6" height="8.4" fill="url(#gy)"/>
<line x1="310" y1="102.90" x2="349" y2="102.90" stroke="#b2b2b2" stroke-width="0.9"/>
<rect x="310.00" y="98.70" width="1.3" height="8.4" fill="#fff" stroke="#e2e2e2" stroke-width="0.3"/>
<rect x="310.00" y="98.70" width="1.3" height="8.4" fill="url(#gy)"/>
<rect x="311.60" y="98.70" width="0.9" height="8.4" fill="#fff" stroke="#e2e2e2" stroke-width="0.3"/>
<rect x="311.60" y="98.70" width="0.9" height="8.4" fill="url(#gy)"/>
<rect x="319.60" y="98.70" width="1" height="8.4" fill="url(#gpale)"/>
<rect x="348.30" y="98.70" width="1.6" height="8.4" fill="#fff" stroke="#e2e2e2" stroke-width="0.3"/>
<rect x="348.30" y="98.70" width="1.6" height="8.4" fill="url(#gy)"/>
<line x1="310" y1="115.50" x2="372" y2="115.50" stroke="#b2b2b2" stroke-width="0.9"/>
<rect x="310.00" y="111.30" width="1.3" height="8.4" fill="#fff" stroke="#e2e2e2" stroke-width="0.3"/>
<rect x="310.00" y="111.30" width="1.3" height="8.4" fill="url(#gy)"/>
<rect x="311.60" y="111.30" width="0.9" height="8.4" fill="#fff" stroke="#e2e2e2" stroke-width="0.3"/>
<rect x="311.60" y="111.30" width="0.9" height="8.4" fill="url(#gy)"/>
<rect x="318.60" y="111.30" width="1" height="8.4" fill="url(#gpale)"/>
<rect x="371.30" y="111.30" width="1.6" height="8.4" fill="#fff" stroke="#e2e2e2" stroke-width="0.3"/>
<rect x="371.30" y="111.30" width="1.6" height="8.4" fill="url(#gy)"/>
<rect x="310.00" y="123.90" width="1.5" height="8.4" fill="#fff" stroke="#e2e2e2" stroke-width="0.3"/>
<rect x="310.00" y="123.90" width="1.5" height="8.4" fill="url(#gy)"/>
<line x1="310" y1="140.70" x2="380" y2="140.70" stroke="#b2b2b2" stroke-width="0.9"/>
<rect x="310.00" y="136.50" width="1.5" height="8.4" fill="#fff" stroke="#e2e2e2" stroke-width="0.3"/>
<rect x="310.00" y="136.50" width="1.5" height="8.4" fill="url(#gy)"/>
<rect x="314.00" y="136.50" width="0.8" height="8.4" fill="url(#gpale)"/>
<rect x="316.50" y="136.50" width="0.8" height="8.4" fill="url(#gpale)"/>
<rect x="379.40" y="136.50" width="1.6" height="8.4" fill="#fff" stroke="#e2e2e2" stroke-width="0.3"/>
<rect x="379.40" y="136.50" width="1.6" height="8.4" fill="url(#gy)"/>
<line x1="310" y1="153.30" x2="426.7" y2="153.30" stroke="#cfcfcf" stroke-width="0.9"/>
<rect x="310.00" y="149.10" width="1" height="8.4" fill="#fff" stroke="#e2e2e2" stroke-width="0.3"/>
<rect x="310.00" y="149.10" width="1" height="8.4" fill="url(#gy)"/>
<rect x="312.20" y="149.10" width="0.8" height="8.4" fill="url(#gpale)"/>
<rect x="314.50" y="149.10" width="0.8" height="8.4" fill="url(#gpale)"/>
<rect x="316.50" y="149.10" width="0.8" height="8.4" fill="url(#gpale)"/>
<rect x="426.00" y="149.10" width="1.6" height="8.4" fill="#fff" stroke="#e2e2e2" stroke-width="0.3"/>
<rect x="426.00" y="149.10" width="1.6" height="8.4" fill="url(#gy)"/>
<line x1="310" y1="165.90" x2="326" y2="165.90" stroke="#b2b2b2" stroke-width="0.9"/>
<rect x="310.00" y="161.70" width="1.3" height="8.4" fill="#fff" stroke="#e2e2e2" stroke-width="0.3"/>
<rect x="310.00" y="161.70" width="1.3" height="8.4" fill="url(#gy)"/>
<rect x="311.50" y="161.70" width="0.8" height="8.4" fill="#fff" stroke="#e2e2e2" stroke-width="0.3"/>
<rect x="311.50" y="161.70" width="0.8" height="8.4" fill="url(#gy)"/>
<rect x="325.30" y="161.70" width="1.6" height="8.4" fill="#fff" stroke="#e2e2e2" stroke-width="0.3"/>
<rect x="325.30" y="161.70" width="1.6" height="8.4" fill="url(#gy)"/>
<line x1="310" y1="178.50" x2="328" y2="178.50" stroke="#b2b2b2" stroke-width="0.9"/>
<rect x="310.00" y="174.30" width="1.3" height="8.4" fill="#fff" stroke="#e2e2e2" stroke-width="0.3"/>
<rect x="310.00" y="174.30" width="1.3" height="8.4" fill="url(#gy)"/>
<rect x="311.50" y="174.30" width="0.8" height="8.4" fill="#fff" stroke="#e2e2e2" stroke-width="0.3"/>
<rect x="311.50" y="174.30" width="0.8" height="8.4" fill="url(#gy)"/>
<rect x="327.30" y="174.30" width="1.6" height="8.4" fill="#fff" stroke="#e2e2e2" stroke-width="0.3"/>
<rect x="327.30" y="174.30" width="1.6" height="8.4" fill="url(#gy)"/>
<line x1="310" y1="191.10" x2="325" y2="191.10" stroke="#b2b2b2" stroke-width="0.9"/>
<rect x="310.00" y="186.90" width="1.3" height="8.4" fill="#fff" stroke="#e2e2e2" stroke-width="0.3"/>
<rect x="310.00" y="186.90" width="1.3" height="8.4" fill="url(#gy)"/>
<rect x="311.50" y="186.90" width="0.8" height="8.4" fill="#fff" stroke="#e2e2e2" stroke-width="0.3"/>
<rect x="311.50" y="186.90" width="0.8" height="8.4" fill="url(#gy)"/>
<rect x="319.00" y="186.90" width="1" height="8.4" fill="url(#gpale)"/>
<rect x="324.50" y="186.90" width="1.6" height="8.4" fill="#fff" stroke="#e2e2e2" stroke-width="0.3"/>
<rect x="324.50" y="186.90" width="1.6" height="8.4" fill="url(#gy)"/>
<line x1="310" y1="203.70" x2="328.5" y2="203.70" stroke="#b2b2b2" stroke-width="0.9"/>
<rect x="310.00" y="199.50" width="1.2" height="8.4" fill="#fff" stroke="#e2e2e2" stroke-width="0.3"/>
<rect x="310.00" y="199.50" width="1.2" height="8.4" fill="url(#gy)"/>
<rect x="315.80" y="199.50" width="0.8" height="8.4" fill="url(#gpale)"/>
<rect x="322.40" y="199.50" width="0.8" height="8.4" fill="url(#gpale)"/>
<rect x="328.00" y="199.50" width="1.6" height="8.4" fill="#fff" stroke="#e2e2e2" stroke-width="0.3"/>
<rect x="328.00" y="199.50" width="1.6" height="8.4" fill="url(#gy)"/>
<line x1="310" y1="216.30" x2="377.6" y2="216.30" stroke="#b2b2b2" stroke-width="0.9"/>
<rect x="310.00" y="212.10" width="1.2" height="8.4" fill="#fff" stroke="#e2e2e2" stroke-width="0.3"/>
<rect x="310.00" y="212.10" width="1.2" height="8.4" fill="url(#gy)"/>
<rect x="325.00" y="212.10" width="0.8" height="8.4" fill="url(#gpale)"/>
<rect x="341.50" y="212.10" width="0.8" height="8.4" fill="url(#gpale)"/>
<rect x="377.00" y="212.10" width="1.6" height="8.4" fill="#fff" stroke="#e2e2e2" stroke-width="0.3"/>
<rect x="377.00" y="212.10" width="1.6" height="8.4" fill="url(#gy)"/>
<line x1="310" y1="228.90" x2="482" y2="228.90" stroke="#b2b2b2" stroke-width="0.9"/>
<rect x="310.00" y="224.70" width="1.2" height="8.4" fill="#fff" stroke="#e2e2e2" stroke-width="0.3"/>
<rect x="310.00" y="224.70" width="1.2" height="8.4" fill="url(#gy)"/>
<rect x="322.40" y="224.70" width="0.8" height="8.4" fill="url(#gpale)"/>
<rect x="352.90" y="224.70" width="0.8" height="8.4" fill="url(#gpale)"/>
<rect x="397.20" y="224.70" width="1.3" height="8.4" fill="#fff" stroke="#e2e2e2" stroke-width="0.3"/>
<rect x="397.20" y="224.70" width="1.3" height="8.4" fill="url(#gy)"/>
<rect x="404.30" y="224.70" width="0.8" height="8.4" fill="url(#gpale)"/>
<rect x="455.20" y="224.70" width="1" height="8.4" fill="url(#gpale)"/>
<rect x="457.30" y="224.70" width="1" height="8.4" fill="url(#gpale)"/>
<rect x="460.30" y="224.70" width="1" height="8.4" fill="url(#gpale)"/>
<rect x="462.30" y="224.70" width="1" height="8.4" fill="url(#gpale)"/>
<rect x="481.30" y="224.70" width="1.3" height="8.4" fill="#fff" stroke="#e2e2e2" stroke-width="0.3"/>
<rect x="481.30" y="224.70" width="1.3" height="8.4" fill="url(#gy)"/>
<line x1="310" y1="241.50" x2="320.5" y2="241.50" stroke="#b2b2b2" stroke-width="0.9"/>
<rect x="310.00" y="237.30" width="1.3" height="8.4" fill="#fff" stroke="#e2e2e2" stroke-width="0.3"/>
<rect x="310.00" y="237.30" width="1.3" height="8.4" fill="url(#gy)"/>
<rect x="311.50" y="237.30" width="0.8" height="8.4" fill="#fff" stroke="#e2e2e2" stroke-width="0.3"/>
<rect x="311.50" y="237.30" width="0.8" height="8.4" fill="url(#gy)"/>
<rect x="315.80" y="237.30" width="0.8" height="8.4" fill="url(#gpale)"/>
<rect x="319.00" y="237.30" width="1.6" height="8.4" fill="#fff" stroke="#e2e2e2" stroke-width="0.3"/>
<rect x="319.00" y="237.30" width="1.6" height="8.4" fill="url(#gy)"/>
<line x1="310" y1="254.10" x2="318.5" y2="254.10" stroke="#b2b2b2" stroke-width="0.9"/>
<rect x="310.00" y="249.90" width="1.3" height="8.4" fill="#fff" stroke="#e2e2e2" stroke-width="0.3"/>
<rect x="310.00" y="249.90" width="1.3" height="8.4" fill="url(#gy)"/>
<rect x="311.50" y="249.90" width="0.8" height="8.4" fill="#fff" stroke="#e2e2e2" stroke-width="0.3"/>
<rect x="311.50" y="249.90" width="0.8" height="8.4" fill="url(#gy)"/>
<rect x="315.80" y="249.90" width="0.8" height="8.4" fill="url(#gpale)"/>
<rect x="317.00" y="249.90" width="1.6" height="8.4" fill="#fff" stroke="#e2e2e2" stroke-width="0.3"/>
<rect x="317.00" y="249.90" width="1.6" height="8.4" fill="url(#gy)"/>
<line x1="310" y1="266.70" x2="505" y2="266.70" stroke="#b2b2b2" stroke-width="0.9"/>
<rect x="310.00" y="262.50" width="1.3" height="8.4" fill="#fff" stroke="#e2e2e2" stroke-width="0.3"/>
<rect x="310.00" y="262.50" width="1.3" height="8.4" fill="url(#gy)"/>
<rect x="328.50" y="262.50" width="0.7" height="8.4" fill="#fff" stroke="#e2e2e2" stroke-width="0.3"/>
<rect x="328.50" y="262.50" width="0.7" height="8.4" fill="url(#gy)"/>
<rect x="344.50" y="262.50" width="0.7" height="8.4" fill="url(#gpale)"/>
<rect x="457.00" y="262.50" width="1.4" height="8.4" fill="#fff" stroke="#e2e2e2" stroke-width="0.3"/>
<rect x="457.00" y="262.50" width="1.4" height="8.4" fill="url(#gy)"/>
<rect x="466.50" y="262.50" width="1.8" height="8.4" fill="#fff" stroke="#e2e2e2" stroke-width="0.3"/>
<rect x="466.50" y="262.50" width="1.8" height="8.4" fill="url(#gy)"/>
<rect x="475.80" y="262.50" width="0.7" height="8.4" fill="url(#gpale)"/>
<rect x="496.30" y="262.50" width="1.4" height="8.4" fill="#fff" stroke="#e2e2e2" stroke-width="0.3"/>
<rect x="496.30" y="262.50" width="1.4" height="8.4" fill="url(#gy)"/>
<rect x="504.50" y="262.50" width="0.8" height="8.4" fill="url(#gpale)"/>
<line x1="310" y1="279.30" x2="340.7" y2="279.30" stroke="#b2b2b2" stroke-width="0.9"/>
<rect x="310.00" y="275.10" width="1.3" height="8.4" fill="#fff" stroke="#e2e2e2" stroke-width="0.3"/>
<rect x="310.00" y="275.10" width="1.3" height="8.4" fill="url(#gy)"/>
<rect x="315.80" y="275.10" width="0.8" height="8.4" fill="url(#gpale)"/>
<rect x="317.80" y="275.10" width="0.8" height="8.4" fill="url(#gpale)"/>
<rect x="340.30" y="275.10" width="0.8" height="8.4" fill="url(#gpale)"/>
<line x1="310" y1="291.90" x2="330.5" y2="291.90" stroke="#b2b2b2" stroke-width="0.9"/>
<rect x="310.00" y="287.70" width="1.3" height="8.4" fill="#fff" stroke="#e2e2e2" stroke-width="0.3"/>
<rect x="310.00" y="287.70" width="1.3" height="8.4" fill="url(#gy)"/>
<rect x="315.30" y="287.70" width="0.8" height="8.4" fill="url(#gpale)"/>
<rect x="317.60" y="287.70" width="0.8" height="8.4" fill="url(#gpale)"/>
<rect x="320.60" y="287.70" width="1.5" height="8.4" fill="#fff" stroke="#e2e2e2" stroke-width="0.3"/>
<rect x="320.60" y="287.70" width="1.5" height="8.4" fill="url(#gy)"/>
<rect x="330.00" y="287.70" width="0.8" height="8.4" fill="url(#gpale)"/>
<rect x="509.9" y="39.90" width="10.4" height="3.6" fill="url(#st)"/>
<text x="522" y="43.20" font-size="4.5" fill="#333" font-family="Liberation Serif, serif">Motif 4</text>
<rect x="509.9" y="45.20" width="10.4" height="3.6" fill="url(#sr)"/>
<text x="522" y="48.50" font-size="4.5" fill="#333" font-family="Liberation Serif, serif">Motif 5</text>
<rect x="509.9" y="50.50" width="10.4" height="3.6" fill="url(#sy)"/>
<text x="522" y="53.80" font-size="4.5" fill="#333" font-family="Liberation Serif, serif">Motif 2</text>
<rect x="509.9" y="55.80" width="10.4" height="3.6" fill="url(#sp)"/>
<text x="522" y="59.10" font-size="4.5" fill="#333" font-family="Liberation Serif, serif">Motif 3</text>
<rect x="509.9" y="61.10" width="10.4" height="3.6" fill="url(#sg)"/>
<text x="522" y="64.40" font-size="4.5" fill="#333" font-family="Liberation Serif, serif">Motif 1</text>
<rect x="509.9" y="66.40" width="10.4" height="3.6" fill="url(#so)"/>
<text x="522" y="69.70" font-size="4.5" fill="#333" font-family="Liberation Serif, serif">Motif 8</text>
<rect x="509.9" y="71.70" width="10.4" height="3.6" fill="url(#sl)"/>
<text x="522" y="75.00" font-size="4.5" fill="#333" font-family="Liberation Serif, serif">Motif 6</text>
<rect x="509.9" y="77.00" width="10.4" height="3.6" fill="url(#sc)"/>
<text x="522" y="80.30" font-size="4.5" fill="#333" font-family="Liberation Serif, serif">Motif 10</text>
<rect x="509.9" y="82.30" width="10.4" height="3.6" fill="url(#sq)"/>
<text x="522" y="85.60" font-size="4.5" fill="#333" font-family="Liberation Serif, serif">Motif 7</text>
<rect x="509.9" y="87.60" width="10.4" height="3.6" fill="url(#su)"/>
<text x="522" y="90.90" font-size="4.5" fill="#333" font-family="Liberation Serif, serif">Motif 9</text>
<rect x="509.9" y="101.50" width="10.4" height="3.6" fill="url(#sg)"/>
<text x="522" y="104.80" font-size="4.5" fill="#333" font-family="Liberation Serif, serif">UTR</text>
<rect x="509.9" y="107.40" width="10.4" height="3.6" fill="url(#sy)"/>
<text x="522" y="110.70" font-size="4.5" fill="#333" font-family="Liberation Serif, serif">CDS</text>
<line x1="509.9" y1="114.7" x2="520.3" y2="114.7" stroke="#888" stroke-width="0.7"/>
<text x="522" y="116.2" font-size="4.5" fill="#333" font-family="Liberation Serif, serif">Intron</text>
<g stroke="#777" stroke-width="0.6">
<line x1="79.6" y1="304.4" x2="289.5" y2="304.4"/>
<line x1="80.0" y1="304.4" x2="80.0" y2="306"/>
<line x1="121.8" y1="304.4" x2="121.8" y2="306"/>
<line x1="163.6" y1="304.4" x2="163.6" y2="306"/>
<line x1="205.4" y1="304.4" x2="205.4" y2="306"/>
<line x1="247.2" y1="304.4" x2="247.2" y2="306"/>
<line x1="289.0" y1="304.4" x2="289.0" y2="306"/>
<line x1="310" y1="304.3" x2="526.5" y2="304.3"/>
<line x1="310.0" y1="304.3" x2="310.0" y2="306"/>
<line x1="346.1" y1="304.3" x2="346.1" y2="306"/>
<line x1="382.2" y1="304.3" x2="382.2" y2="306"/>
<line x1="418.2" y1="304.3" x2="418.2" y2="306"/>
<line x1="454.3" y1="304.3" x2="454.3" y2="306"/>
<line x1="490.4" y1="304.3" x2="490.4" y2="306"/>
<line x1="526.5" y1="304.3" x2="526.5" y2="306"/>
</g>
<g font-family="Liberation Sans, sans-serif" font-size="5.4" fill="#444" text-anchor="middle">
<text x="80.0" y="312.6">0</text>
<text x="121.8" y="312.6">100</text>
<text x="163.6" y="312.6">200</text>
<text x="205.4" y="312.6">300</text>
<text x="247.2" y="312.6">400</text>
<text x="294.5" y="312.6">500 (bp)</text>
<text x="310.0" y="312.6">0</text>
<text x="346.1" y="312.6">5000</text>
<text x="382.2" y="312.6">10, 000</text>
<text x="418.2" y="312.6">15, 000</text>
<text x="454.3" y="312.6">20, 000</text>
<text x="490.4" y="312.6">25, 000</text>
<text x="535" y="312.6">30, 000 (kb)</text>
</g>
<g font-family="Liberation Sans, sans-serif" font-size="5" fill="#333">
<text x="75.8" y="305.8">5'</text><text x="290.2" y="306">3'</text><text x="306.3" y="305.8">5'</text><text x="527.8" y="305.3">3'</text>
</g>
<g font-family="Liberation Serif, serif" font-size="11.5" fill="#222">
<text x="7.2" y="15.8" fill="#222">(a)</text>
<text x="82.4" y="15.8" fill="#444">(b)</text>
<text x="308.5" y="16.2" font-weight="bold" fill="#333">(c)</text>
<text x="9.6" y="332" fill="#222">(d)</text>
</g>
<g font-family="Liberation Sans, sans-serif" font-weight="bold" font-size="100">
<text transform="matrix(0.0878 0 0 0.2826 30.29 371.20)" fill="#2a3eb1">V</text>
<text transform="matrix(0.0852 0 0 0.0188 30.16 372.50)" fill="#2a3eb1">A</text>
<text transform="matrix(0.1011 0 0 0.0145 29.72 373.50)" fill="#b14fb8">E</text>
<text transform="matrix(0.0906 0 0 0.0870 36.25 364.30)" fill="#5cc8b8">Y</text>
<text transform="matrix(0.0952 0 0 0.0352 36.15 366.76)" fill="#1f8a3c">S</text>
<text transform="matrix(0.0899 0 0 0.0290 35.85 368.80)" fill="#d01c2a">R</text>
<text transform="matrix(0.0846 0 0 0.0338 36.10 371.17)" fill="#f2a418">G</text>
<text transform="matrix(0.0928 0 0 0.0333 35.83 373.50)" fill="#b14fb8">D</text>
<text transform="matrix(0.0852 0 0 0.0942 42.28 365.00)" fill="#2a3eb1">A</text>
<text transform="matrix(0.1011 0 0 0.0362 41.84 367.50)" fill="#b14fb8">E</text>
<text transform="matrix(0.1002 0 0 0.0290 41.84 369.50)" fill="#ecec2a">P</text>
<text transform="matrix(0.0846 0 0 0.0352 42.16 371.96)" fill="#f2a418">G</text>
<text transform="matrix(0.0928 0 0 0.0217 41.89 373.50)" fill="#b14fb8">D</text>
<text transform="matrix(0.1002 0 0 0.3406 47.90 370.90)" fill="#ecec2a">P</text>
<text transform="matrix(0.0852 0 0 0.0174 48.34 372.10)" fill="#2a3eb1">A</text>
<text transform="matrix(0.0928 0 0 0.0203 47.95 373.50)" fill="#b14fb8">D</text>
<text transform="matrix(0.0846 0 0 0.0704 54.28 363.93)" fill="#f2a418">G</text>
<text transform="matrix(0.0928 0 0 0.0435 54.01 367.00)" fill="#b14fb8">D</text>
<text transform="matrix(0.0952 0 0 0.0282 54.33 368.97)" fill="#1f8a3c">S</text>
<text transform="matrix(0.1011 0 0 0.0290 53.96 371.00)" fill="#b14fb8">E</text>
<text transform="matrix(0.0852 0 0 0.0362 54.40 373.50)" fill="#2a3eb1">A</text>
<text transform="matrix(0.0607 0 0 0.1159 60.67 364.00)" fill="#2a3eb1">W</text>
<text transform="matrix(0.0928 0 0 0.0435 60.07 367.00)" fill="#b14fb8">D</text>
<text transform="matrix(0.0952 0 0 0.0423 60.39 369.96)" fill="#1f8a3c">S</text>
<text transform="matrix(0.0899 0 0 0.0290 60.09 372.00)" fill="#d01c2a">R</text>
<text transform="matrix(0.0872 0 0 0.0211 60.33 373.48)" fill="#2a3eb1">C</text>
<text transform="matrix(0.0899 0 0 0.4058 66.15 371.00)" fill="#d01c2a">R</text>
<text transform="matrix(0.0885 0 0 0.0217 66.16 372.50)" fill="#d01c2a">K</text>
<text transform="matrix(0.0952 0 0 0.0141 66.45 373.49)" fill="#1f8a3c">S</text>
<text transform="matrix(0.0822 0 0 0.0670 72.47 362.69)" fill="#1f8a3c">Q</text>
<text transform="matrix(0.1011 0 0 0.0290 72.14 366.00)" fill="#b14fb8">E</text>
<text transform="matrix(0.0952 0 0 0.0282 72.51 367.97)" fill="#1f8a3c">S</text>
<text transform="matrix(0.0928 0 0 0.0435 72.19 371.00)" fill="#b14fb8">D</text>
<text transform="matrix(0.0899 0 0 0.0362 72.21 373.50)" fill="#d01c2a">R</text>
<text transform="matrix(0.0968 0 0 0.3478 78.23 369.90)" fill="#1f8a3c">N</text>
<text transform="matrix(0.0822 0 0 0.0223 78.53 371.46)" fill="#1f8a3c">Q</text>
<text transform="matrix(0.0952 0 0 0.0225 78.57 373.48)" fill="#1f8a3c">S</text>
<text transform="matrix(0.1120 0 0 0.4130 84.19 371.50)" fill="#2a3eb1">F</text>
<text transform="matrix(0.1109 0 0 0.0290 84.19 373.50)" fill="#2a3eb1">L</text>
<text transform="matrix(0.0968 0 0 0.1449 90.35 363.90)" fill="#1f8a3c">N</text>
<text transform="matrix(0.0952 0 0 0.0563 90.69 367.84)" fill="#1f8a3c">S</text>
<text transform="matrix(0.0968 0 0 0.0435 90.88 370.90)" fill="#1f8a3c">T</text>
<text transform="matrix(0.0928 0 0 0.0377 90.37 373.50)" fill="#b14fb8">D</text>
<text transform="matrix(0.0968 0 0 0.4420 96.94 373.50)" fill="#1f8a3c">T</text>
<text transform="matrix(0.0899 0 0 0.3188 102.51 367.90)" fill="#d01c2a">R</text>
<text transform="matrix(0.0952 0 0 0.0423 102.81 370.86)" fill="#1f8a3c">S</text>
<text transform="matrix(0.0822 0 0 0.0291 102.77 372.93)" fill="#1f8a3c">Q</text>
<text transform="matrix(0.0928 0 0 0.0725 108.55 364.70)" fill="#b14fb8">D</text>
<text transform="matrix(0.1011 0 0 0.0435 108.50 367.70)" fill="#b14fb8">E</text>
<text transform="matrix(0.0968 0 0 0.0362 108.53 370.20)" fill="#1f8a3c">N</text>
<text transform="matrix(0.0952 0 0 0.0324 108.87 372.47)" fill="#1f8a3c">S</text>
<text transform="matrix(0.0822 0 0 0.0112 108.83 373.28)" fill="#1f8a3c">Q</text>
<text transform="matrix(0.1120 0 0 0.4420 114.49 373.50)" fill="#2a3eb1">F</text>
<text transform="matrix(0.0852 0 0 0.3478 121.06 370.60)" fill="#2a3eb1">A</text>
<text transform="matrix(0.0952 0 0 0.0408 120.99 373.46)" fill="#1f8a3c">S</text>
<text transform="matrix(0.0822 0 0 0.0894 127.01 362.26)" fill="#1f8a3c">Q</text>
<text transform="matrix(0.1011 0 0 0.0435 126.68 367.00)" fill="#b14fb8">E</text>
<text transform="matrix(0.0952 0 0 0.0423 127.05 369.96)" fill="#1f8a3c">S</text>
<text transform="matrix(0.0968 0 0 0.0362 127.24 372.50)" fill="#1f8a3c">T</text>
<text transform="matrix(0.0968 0 0 0.0145 126.71 373.50)" fill="#1f8a3c">N</text>
<text transform="matrix(0.1011 0 0 0.0580 132.74 364.50)" fill="#b14fb8">E</text>
<text transform="matrix(0.0906 0 0 0.0290 133.21 366.50)" fill="#5cc8b8">Y</text>
<text transform="matrix(0.0952 0 0 0.0423 133.11 369.46)" fill="#1f8a3c">S</text>
<text transform="matrix(0.0872 0 0 0.0282 133.05 371.47)" fill="#2a3eb1">C</text>
<text transform="matrix(0.0968 0 0 0.0290 133.30 373.50)" fill="#1f8a3c">T</text>
<text transform="matrix(0.0906 0 0 0.2464 139.27 365.80)" fill="#5cc8b8">Y</text>
<text transform="matrix(0.0968 0 0 0.0435 138.83 368.80)" fill="#1f8a3c">N</text>
<text transform="matrix(0.0952 0 0 0.0282 139.17 370.77)" fill="#1f8a3c">S</text>
<text transform="matrix(0.1011 0 0 0.0391 138.80 373.50)" fill="#b14fb8">E</text>
<text transform="matrix(0.0968 0 0 0.1449 144.89 366.00)" fill="#1f8a3c">N</text>
<text transform="matrix(0.0952 0 0 0.0423 145.23 368.96)" fill="#1f8a3c">S</text>
<text transform="matrix(0.0822 0 0 0.0279 145.19 370.96)" fill="#1f8a3c">Q</text>
<text transform="matrix(0.0928 0 0 0.0290 144.91 373.50)" fill="#b14fb8">D</text>
<text transform="matrix(0.1109 0 0 0.4058 150.85 371.00)" fill="#2a3eb1">L</text>
<text transform="matrix(0.0866 0 0 0.0362 153.24 373.50)" fill="#2a3eb1">I</text>
<text transform="matrix(0.0846 0 0 0.1690 157.30 363.53)" fill="#f2a418">G</text>
<text transform="matrix(0.0952 0 0 0.0563 157.35 367.64)" fill="#1f8a3c">S</text>
<text transform="matrix(0.1109 0 0 0.0435 156.91 370.70)" fill="#2a3eb1">L</text>
<text transform="matrix(0.0852 0 0 0.0406 157.42 373.50)" fill="#2a3eb1">A</text>
<text transform="matrix(0.0952 0 0 0.1127 163.41 364.69)" fill="#1f8a3c">S</text>
<text transform="matrix(0.1109 0 0 0.0725 162.97 369.80)" fill="#2a3eb1">L</text>
<text transform="matrix(0.0846 0 0 0.0211 163.36 371.28)" fill="#f2a418">G</text>
<text transform="matrix(0.1011 0 0 0.0319 163.04 373.50)" fill="#b14fb8">E</text>
<text transform="matrix(0.1002 0 0 0.4203 169.10 372.00)" fill="#ecec2a">P</text>
<text transform="matrix(0.0852 0 0 0.0217 169.54 373.50)" fill="#2a3eb1">A</text>
<text transform="matrix(0.0878 0 0 0.4058 175.73 371.00)" fill="#2a3eb1">V</text>
<text transform="matrix(0.0952 0 0 0.0352 175.53 373.46)" fill="#1f8a3c">S</text>
<text transform="matrix(0.0852 0 0 0.2899 181.66 369.50)" fill="#2a3eb1">A</text>
<text transform="matrix(0.0952 0 0 0.0352 181.59 371.96)" fill="#1f8a3c">S</text>
<text transform="matrix(0.0968 0 0 0.0217 181.78 373.50)" fill="#1f8a3c">T</text>
<text transform="matrix(0.0852 0 0 0.3043 187.72 370.50)" fill="#2a3eb1">A</text>
<text transform="matrix(0.0846 0 0 0.0211 187.60 371.98)" fill="#f2a418">G</text>
<text transform="matrix(0.1002 0 0 0.0217 187.28 373.50)" fill="#ecec2a">P</text>
<text transform="matrix(0.0878 0 0 0.0870 193.91 362.80)" fill="#2a3eb1">V</text>
<text transform="matrix(0.0866 0 0 0.0580 195.66 366.80)" fill="#2a3eb1">I</text>
<text transform="matrix(0.0852 0 0 0.0435 193.78 369.80)" fill="#2a3eb1">A</text>
<text transform="matrix(0.1109 0 0 0.0319 193.27 372.00)" fill="#2a3eb1">L</text>
<text transform="matrix(0.0816 0 0 0.0217 193.46 373.50)" fill="#2a3eb1">M</text>
<text transform="matrix(0.0906 0 0 0.4420 199.87 373.50)" fill="#5cc8b8">Y</text>
<text transform="matrix(0.1120 0 0 0.4420 205.39 373.50)" fill="#2a3eb1">F</text>
<text transform="matrix(0.0968 0 0 0.4420 211.55 373.50)" fill="#1f8a3c">N</text>
<text transform="matrix(0.0872 0 0 0.3789 217.89 373.12)" fill="#2a3eb1">C</text>
<text transform="matrix(0.0822 0 0 0.3240 223.97 367.18)" fill="#1f8a3c">Q</text>
<text transform="matrix(0.0899 0 0 0.4420 229.77 373.50)" fill="#d01c2a">R</text>
<text transform="matrix(0.1011 0 0 0.4000 235.76 373.50)" fill="#b14fb8">E</text>
<text transform="matrix(0.0852 0 0 0.0870 242.26 365.00)" fill="#2a3eb1">A</text>
<text transform="matrix(0.1011 0 0 0.0362 241.82 367.50)" fill="#b14fb8">E</text>
<text transform="matrix(0.0952 0 0 0.0282 242.19 369.47)" fill="#1f8a3c">S</text>
<text transform="matrix(0.0906 0 0 0.0290 242.29 371.50)" fill="#5cc8b8">Y</text>
<text transform="matrix(0.0846 0 0 0.0282 242.14 373.47)" fill="#f2a418">G</text>
<text transform="matrix(0.0846 0 0 0.2676 248.20 368.23)" fill="#f2a418">G</text>
<text transform="matrix(0.0952 0 0 0.0352 248.25 370.96)" fill="#1f8a3c">S</text>
<text transform="matrix(0.0822 0 0 0.0279 248.21 372.96)" fill="#1f8a3c">Q</text>
<text transform="matrix(0.0952 0 0 0.0986 254.31 362.30)" fill="#1f8a3c">S</text>
<text transform="matrix(0.0872 0 0 0.0704 254.25 367.33)" fill="#2a3eb1">C</text>
<text transform="matrix(0.0852 0 0 0.0290 254.38 369.40)" fill="#2a3eb1">A</text>
<text transform="matrix(0.1011 0 0 0.0290 253.94 371.40)" fill="#b14fb8">E</text>
<text transform="matrix(0.0899 0 0 0.0304 254.01 373.50)" fill="#d01c2a">R</text>
<text transform="matrix(0.0846 0 0 0.2535 260.32 366.55)" fill="#f2a418">G</text>
<text transform="matrix(0.0899 0 0 0.0725 260.07 371.80)" fill="#d01c2a">R</text>
<text transform="matrix(0.0952 0 0 0.0239 260.37 373.48)" fill="#1f8a3c">S</text>
<text transform="matrix(0.0846 0 0 0.2535 266.38 366.55)" fill="#f2a418">G</text>
<text transform="matrix(0.0899 0 0 0.0725 266.13 371.80)" fill="#d01c2a">R</text>
<text transform="matrix(0.0968 0 0 0.0246 266.09 373.50)" fill="#1f8a3c">N</text>
<text transform="matrix(0.0899 0 0 0.4420 272.19 373.50)" fill="#d01c2a">R</text>
<text transform="matrix(0.1200 0 0 0.3944 29.89 415.01)" fill="#f2a418">G</text>
<text transform="matrix(0.1350 0 0 0.0366 29.97 417.96)" fill="#1f8a3c">S</text>
<text transform="matrix(0.1276 0 0 0.1014 38.00 408.20)" fill="#d01c2a">R</text>
<text transform="matrix(0.1373 0 0 0.0870 37.93 414.20)" fill="#1f8a3c">N</text>
<text transform="matrix(0.1317 0 0 0.0290 37.97 416.20)" fill="#b14fb8">D</text>
<text transform="matrix(0.1350 0 0 0.0254 38.42 417.97)" fill="#1f8a3c">S</text>
<text transform="matrix(0.1434 0 0 0.3478 46.34 413.50)" fill="#b14fb8">E</text>
<text transform="matrix(0.1317 0 0 0.0362 46.42 416.00)" fill="#b14fb8">D</text>
<text transform="matrix(0.1350 0 0 0.0282 46.87 417.97)" fill="#1f8a3c">S</text>
<text transform="matrix(0.1246 0 0 0.1159 55.60 407.00)" fill="#2a3eb1">V</text>
<text transform="matrix(0.1573 0 0 0.1014 54.70 414.00)" fill="#2a3eb1">L</text>
<text transform="matrix(0.1209 0 0 0.0290 55.42 416.00)" fill="#2a3eb1">A</text>
<text transform="matrix(0.1317 0 0 0.0290 54.87 418.00)" fill="#b14fb8">D</text>
<text transform="matrix(0.1246 0 0 0.3333 64.05 415.50)" fill="#2a3eb1">V</text>
<text transform="matrix(0.1229 0 0 0.0217 66.54 417.00)" fill="#2a3eb1">I</text>
<text transform="matrix(0.1350 0 0 0.0141 63.77 417.99)" fill="#1f8a3c">S</text>
<text transform="matrix(0.1350 0 0 0.0352 72.22 407.26)" fill="#1f8a3c">S</text>
<text transform="matrix(0.1276 0 0 0.0362 71.80 409.80)" fill="#d01c2a">R</text>
<text transform="matrix(0.1421 0 0 0.0319 71.70 412.00)" fill="#ecec2a">P</text>
<text transform="matrix(0.1434 0 0 0.0290 71.69 414.00)" fill="#b14fb8">E</text>
<text transform="matrix(0.1209 0 0 0.0290 72.32 416.00)" fill="#2a3eb1">A</text>
<text transform="matrix(0.1200 0 0 0.0282 72.14 417.97)" fill="#f2a418">G</text>
<text transform="matrix(0.1286 0 0 0.4435 80.82 418.00)" fill="#5cc8b8">Y</text>
<text transform="matrix(0.1434 0 0 0.3478 88.59 415.00)" fill="#b14fb8">E</text>
<text transform="matrix(0.1246 0 0 0.0435 89.40 418.00)" fill="#2a3eb1">V</text>
<text transform="matrix(0.1350 0 0 0.2817 97.57 414.32)" fill="#1f8a3c">S</text>
<text transform="matrix(0.1421 0 0 0.0290 97.05 416.60)" fill="#ecec2a">P</text>
<text transform="matrix(0.1317 0 0 0.0203 97.12 418.00)" fill="#b14fb8">D</text>
<text transform="matrix(0.1421 0 0 0.4435 105.50 418.00)" fill="#ecec2a">P</text>
<text transform="matrix(0.1276 0 0 0.0942 114.05 407.70)" fill="#d01c2a">R</text>
<text transform="matrix(0.1350 0 0 0.0493 114.47 411.15)" fill="#1f8a3c">S</text>
<text transform="matrix(0.1276 0 0 0.0435 114.05 414.20)" fill="#d01c2a">R</text>
<text transform="matrix(0.1256 0 0 0.0290 114.06 416.20)" fill="#d01c2a">K</text>
<text transform="matrix(0.1200 0 0 0.0254 114.39 417.97)" fill="#f2a418">G</text>
<text transform="matrix(0.1421 0 0 0.4435 122.40 418.00)" fill="#ecec2a">P</text>
<text transform="matrix(0.1373 0 0 0.0580 131.64 411.00)" fill="#1f8a3c">T</text>
<text transform="matrix(0.1350 0 0 0.0423 131.37 413.96)" fill="#1f8a3c">S</text>
<text transform="matrix(0.1434 0 0 0.0290 130.84 416.00)" fill="#b14fb8">E</text>
<text transform="matrix(0.1286 0 0 0.0290 131.52 418.00)" fill="#5cc8b8">Y</text>
<text transform="matrix(0.1209 0 0 0.0725 139.92 409.80)" fill="#2a3eb1">A</text>
<text transform="matrix(0.1237 0 0 0.0423 139.73 412.76)" fill="#2a3eb1">C</text>
<text transform="matrix(0.1373 0 0 0.0435 140.09 415.80)" fill="#1f8a3c">T</text>
<text transform="matrix(0.1350 0 0 0.0310 139.82 417.97)" fill="#1f8a3c">S</text>
<text transform="matrix(0.1200 0 0 0.4310 148.19 417.57)" fill="#f2a418">G</text>
<text transform="matrix(0.1229 0 0 0.4435 159.49 418.00)" fill="#2a3eb1">I</text>
<text transform="matrix(0.1373 0 0 0.4435 164.68 418.00)" fill="#f8c3c7">H</text>
<text transform="matrix(0.1276 0 0 0.4435 173.20 418.00)" fill="#d01c2a">R</text>
<text transform="matrix(0.1229 0 0 0.0942 184.84 409.00)" fill="#2a3eb1">I</text>
<text transform="matrix(0.1246 0 0 0.0203 182.35 410.40)" fill="#2a3eb1">V</text>
<text transform="matrix(0.1237 0 0 0.0352 181.98 412.86)" fill="#2a3eb1">C</text>
<text transform="matrix(0.1350 0 0 0.0324 182.07 415.17)" fill="#1f8a3c">S</text>
<text transform="matrix(0.1434 0 0 0.0406 181.54 418.00)" fill="#b14fb8">E</text>
<text transform="matrix(0.1246 0 0 0.3188 190.80 415.90)" fill="#2a3eb1">V</text>
<text transform="matrix(0.1373 0 0 0.0304 190.79 418.00)" fill="#1f8a3c">T</text>
<text transform="matrix(0.1588 0 0 0.3768 198.34 416.30)" fill="#2a3eb1">F</text>
<text transform="matrix(0.1573 0 0 0.0246 198.35 418.00)" fill="#2a3eb1">L</text>
<text transform="matrix(0.1246 0 0 0.1449 207.70 409.70)" fill="#2a3eb1">V</text>
<text transform="matrix(0.1209 0 0 0.0870 207.52 415.70)" fill="#2a3eb1">A</text>
<text transform="matrix(0.1350 0 0 0.0324 207.42 417.97)" fill="#1f8a3c">S</text>
<text transform="matrix(0.1573 0 0 0.4058 215.25 415.40)" fill="#2a3eb1">L</text>
<text transform="matrix(0.1588 0 0 0.0377 215.24 418.00)" fill="#2a3eb1">F</text>
<text transform="matrix(0.1588 0 0 0.3188 223.69 414.50)" fill="#2a3eb1">F</text>
<text transform="matrix(0.1573 0 0 0.0507 223.70 418.00)" fill="#2a3eb1">L</text>
<text transform="matrix(0.1276 0 0 0.0725 232.35 408.40)" fill="#d01c2a">R</text>
<text transform="matrix(0.1256 0 0 0.0725 232.36 413.40)" fill="#d01c2a">K</text>
<text transform="matrix(0.1373 0 0 0.0290 232.28 415.40)" fill="#1f8a3c">N</text>
<text transform="matrix(0.1350 0 0 0.0366 232.77 417.96)" fill="#1f8a3c">S</text>
<text transform="matrix(0.1165 0 0 0.3128 241.16 409.30)" fill="#1f8a3c">Q</text>
<text transform="matrix(0.1350 0 0 0.0366 241.22 417.96)" fill="#1f8a3c">S</text>
<text transform="matrix(0.1434 0 0 0.0435 249.14 407.80)" fill="#b14fb8">E</text>
<text transform="matrix(0.1350 0 0 0.0423 249.67 410.76)" fill="#1f8a3c">S</text>
<text transform="matrix(0.1256 0 0 0.0435 249.26 413.80)" fill="#d01c2a">K</text>
<text transform="matrix(0.1373 0 0 0.0290 249.94 415.80)" fill="#1f8a3c">T</text>
<text transform="matrix(0.1317 0 0 0.0319 249.22 418.00)" fill="#b14fb8">D</text>
<text transform="matrix(0.1200 0 0 0.0704 258.04 409.03)" fill="#f2a418">G</text>
<text transform="matrix(0.1434 0 0 0.0362 257.59 411.60)" fill="#b14fb8">E</text>
<text transform="matrix(0.1373 0 0 0.0362 258.39 414.10)" fill="#1f8a3c">T</text>
<text transform="matrix(0.1317 0 0 0.0290 257.67 416.10)" fill="#b14fb8">D</text>
<text transform="matrix(0.1350 0 0 0.0268 258.12 417.97)" fill="#1f8a3c">S</text>
<text transform="matrix(0.1276 0 0 0.3478 266.15 415.00)" fill="#d01c2a">R</text>
<text transform="matrix(0.1165 0 0 0.0335 266.51 417.35)" fill="#1f8a3c">Q</text>
<text transform="matrix(0.2110 0 0 0.2464 29.30 463.90)" fill="#1f8a3c">N</text>
<text transform="matrix(0.2184 0 0 0.0217 29.26 465.40)" fill="#ecec2a">P</text>
<text transform="matrix(0.1858 0 0 0.0377 30.21 468.00)" fill="#2a3eb1">A</text>
<text transform="matrix(0.1930 0 0 0.2464 42.22 461.00)" fill="#d01c2a">K</text>
<text transform="matrix(0.1961 0 0 0.1014 42.20 468.00)" fill="#d01c2a">R</text>
<text transform="matrix(0.2184 0 0 0.0362 54.86 458.10)" fill="#ecec2a">P</text>
<text transform="matrix(0.2204 0 0 0.0507 54.84 461.60)" fill="#b14fb8">E</text>
<text transform="matrix(0.2024 0 0 0.0507 54.96 465.10)" fill="#b14fb8">D</text>
<text transform="matrix(0.1858 0 0 0.0203 55.81 466.50)" fill="#2a3eb1">A</text>
<text transform="matrix(0.2204 0 0 0.0217 54.84 468.00)" fill="#b14fb8">E</text>
<text transform="matrix(0.1976 0 0 0.2754 68.68 465.90)" fill="#2a3eb1">Y</text>
<text transform="matrix(0.1858 0 0 0.0304 68.61 468.00)" fill="#2a3eb1">A</text>
<text transform="matrix(0.2110 0 0 0.1304 81.66 462.20)" fill="#1f8a3c">T</text>
<text transform="matrix(0.1858 0 0 0.0435 81.41 465.20)" fill="#1f8a3c">A</text>
<text transform="matrix(0.2110 0 0 0.0217 80.50 466.70)" fill="#1f8a3c">N</text>
<text transform="matrix(0.1858 0 0 0.0188 81.41 468.00)" fill="#2a3eb1">A</text>
<text transform="matrix(0.2110 0 0 0.4420 93.30 468.00)" fill="#1f8a3c">N</text>
<text transform="matrix(0.1844 0 0 0.4296 106.74 467.57)" fill="#f2a418">G</text>
<text transform="matrix(0.1901 0 0 0.0986 119.51 459.60)" fill="#2a3eb1">C</text>
<text transform="matrix(0.2075 0 0 0.0704 119.65 464.63)" fill="#1f8a3c">S</text>
<text transform="matrix(0.2417 0 0 0.0217 118.70 466.20)" fill="#2a3eb1">L</text>
<text transform="matrix(0.2110 0 0 0.0261 120.06 468.00)" fill="#1f8a3c">T</text>
<text transform="matrix(0.2024 0 0 0.1594 131.76 460.80)" fill="#b14fb8">D</text>
<text transform="matrix(0.2204 0 0 0.0870 131.64 466.80)" fill="#b14fb8">E</text>
<text transform="matrix(0.2184 0 0 0.0174 131.66 468.00)" fill="#ecec2a">P</text>
<text transform="matrix(0.2417 0 0 0.2754 144.30 464.50)" fill="#2a3eb1">L</text>
<text transform="matrix(0.1915 0 0 0.0507 145.68 468.00)" fill="#2a3eb1">V</text>
<text transform="matrix(0.1930 0 0 0.1739 157.42 459.60)" fill="#d01c2a">K</text>
<text transform="matrix(0.1961 0 0 0.1014 157.40 466.60)" fill="#d01c2a">R</text>
<text transform="matrix(0.1976 0 0 0.0203 158.28 468.00)" fill="#5cc8b8">Y</text>
<text transform="matrix(0.2184 0 0 0.3623 170.06 466.10)" fill="#ecec2a">P</text>
<text transform="matrix(0.2075 0 0 0.0268 170.85 467.97)" fill="#1f8a3c">S</text>
<text transform="matrix(0.2075 0 0 0.4197 183.65 467.58)" fill="#1f8a3c">S</text>
<text transform="matrix(0.1858 0 0 0.1014 196.61 461.20)" fill="#2a3eb1">A</text>
<text transform="matrix(0.2075 0 0 0.0423 196.45 464.16)" fill="#1f8a3c">S</text>
<text transform="matrix(0.2110 0 0 0.0290 195.70 466.20)" fill="#1f8a3c">N</text>
<text transform="matrix(0.2075 0 0 0.0254 196.45 467.97)" fill="#1f8a3c">S</text>
<text transform="matrix(0.1915 0 0 0.3043 209.68 465.00)" fill="#2a3eb1">V</text>
<text transform="matrix(0.1858 0 0 0.0435 209.41 468.00)" fill="#2a3eb1">A</text>
<text transform="matrix(0.0759 0 0 0.5348 316.33 377.00)" fill="#ecec2a">P</text>
<text transform="matrix(0.0681 0 0 0.2899 320.96 371.00)" fill="#d01c2a">R</text>
<text transform="matrix(0.0766 0 0 0.0362 320.90 373.50)" fill="#b14fb8">E</text>
<text transform="matrix(0.0646 0 0 0.0290 321.24 375.50)" fill="#2a3eb1">A</text>
<text transform="matrix(0.0618 0 0 0.0217 321.00 377.00)" fill="#2a3eb1">M</text>
<text transform="matrix(0.0666 0 0 0.4348 325.91 374.50)" fill="#2a3eb1">V</text>
<text transform="matrix(0.0646 0 0 0.0362 325.82 377.00)" fill="#2a3eb1">A</text>
<text transform="matrix(0.0766 0 0 0.4348 330.06 374.50)" fill="#b14fb8">E</text>
<text transform="matrix(0.0646 0 0 0.0362 330.39 377.00)" fill="#2a3eb1">A</text>
<text transform="matrix(0.0687 0 0 0.3478 334.99 372.80)" fill="#2a3eb1">Y</text>
<text transform="matrix(0.0660 0 0 0.0282 334.86 374.77)" fill="#2a3eb1">C</text>
<text transform="matrix(0.0721 0 0 0.0310 334.91 376.97)" fill="#1f8a3c">S</text>
<text transform="matrix(0.0641 0 0 0.1690 339.45 365.73)" fill="#f2a418">G</text>
<text transform="matrix(0.0733 0 0 0.0435 339.63 368.90)" fill="#1f8a3c">T</text>
<text transform="matrix(0.0766 0 0 0.0435 339.21 371.90)" fill="#b14fb8">E</text>
<text transform="matrix(0.0703 0 0 0.0435 339.25 374.90)" fill="#b14fb8">D</text>
<text transform="matrix(0.0721 0 0 0.0296 339.49 376.97)" fill="#1f8a3c">S</text>
<text transform="matrix(0.0641 0 0 0.3662 344.02 370.13)" fill="#f2a418">G</text>
<text transform="matrix(0.0721 0 0 0.0423 344.06 373.46)" fill="#1f8a3c">S</text>
<text transform="matrix(0.0733 0 0 0.0507 343.80 377.00)" fill="#1f8a3c">N</text>
<text transform="matrix(0.0703 0 0 0.0725 348.40 361.80)" fill="#b14fb8">D</text>
<text transform="matrix(0.0766 0 0 0.0580 348.36 365.80)" fill="#b14fb8">E</text>
<text transform="matrix(0.0733 0 0 0.0435 348.38 368.80)" fill="#1f8a3c">N</text>
<text transform="matrix(0.0721 0 0 0.0423 348.64 371.76)" fill="#1f8a3c">S</text>
<text transform="matrix(0.0681 0 0 0.0362 348.41 374.30)" fill="#d01c2a">R</text>
<text transform="matrix(0.0641 0 0 0.0380 348.60 376.96)" fill="#f2a418">G</text>
<text transform="matrix(0.0703 0 0 0.4058 352.98 372.50)" fill="#b14fb8">D</text>
<text transform="matrix(0.0721 0 0 0.0352 353.22 374.96)" fill="#1f8a3c">S</text>
<text transform="matrix(0.0766 0 0 0.0290 352.94 377.00)" fill="#b14fb8">E</text>
<text transform="matrix(0.0840 0 0 0.1159 357.46 367.00)" fill="#2a3eb1">L</text>
<text transform="matrix(0.0733 0 0 0.0725 357.94 372.00)" fill="#1f8a3c">T</text>
<text transform="matrix(0.0721 0 0 0.0423 357.79 374.96)" fill="#1f8a3c">S</text>
<text transform="matrix(0.0656 0 0 0.0290 359.27 377.00)" fill="#2a3eb1">I</text>
<text transform="matrix(0.0681 0 0 0.1739 362.14 365.90)" fill="#d01c2a">R</text>
<text transform="matrix(0.0622 0 0 0.0447 362.34 369.03)" fill="#1f8a3c">Q</text>
<text transform="matrix(0.0766 0 0 0.0435 362.09 372.90)" fill="#b14fb8">E</text>
<text transform="matrix(0.0733 0 0 0.0362 362.11 375.40)" fill="#1f8a3c">N</text>
<text transform="matrix(0.0721 0 0 0.0225 362.37 376.98)" fill="#1f8a3c">S</text>
<text transform="matrix(0.0666 0 0 0.0580 367.09 364.50)" fill="#2a3eb1">V</text>
<text transform="matrix(0.0622 0 0 0.0559 366.91 368.41)" fill="#1f8a3c">Q</text>
<text transform="matrix(0.0733 0 0 0.0435 367.09 372.50)" fill="#1f8a3c">T</text>
<text transform="matrix(0.0733 0 0 0.0362 366.68 375.00)" fill="#1f8a3c">N</text>
<text transform="matrix(0.0766 0 0 0.0290 366.66 377.00)" fill="#b14fb8">E</text>
<text transform="matrix(0.0766 0 0 0.2319 371.24 368.50)" fill="#2a3eb1">E</text>
<text transform="matrix(0.0840 0 0 0.0725 371.19 373.50)" fill="#2a3eb1">L</text>
<text transform="matrix(0.0671 0 0 0.0290 371.30 375.50)" fill="#d01c2a">K</text>
<text transform="matrix(0.0721 0 0 0.0211 371.52 376.98)" fill="#1f8a3c">S</text>
<text transform="matrix(0.0687 0 0 0.4406 376.18 377.00)" fill="#5cc8b8">Y</text>
<text transform="matrix(0.0733 0 0 0.5348 380.82 377.00)" fill="#1f8a3c">T</text>
<text transform="matrix(0.0840 0 0 0.4609 384.92 377.00)" fill="#2a3eb1">L</text>
<text transform="matrix(0.0687 0 0 0.4507 389.90 377.00)" fill="#2a3eb1">Y</text>
<text transform="matrix(0.0618 0 0 0.5348 394.22 377.00)" fill="#2a3eb1">M</text>
<text transform="matrix(0.0687 0 0 0.1739 399.06 363.70)" fill="#2a3eb1">Y</text>
<text transform="matrix(0.0733 0 0 0.1449 399.12 373.70)" fill="#1f8a3c">T</text>
<text transform="matrix(0.0840 0 0 0.0478 398.65 377.00)" fill="#2a3eb1">L</text>
<text transform="matrix(0.0703 0 0 0.3478 403.31 370.60)" fill="#b14fb8">D</text>
<text transform="matrix(0.0840 0 0 0.0928 403.22 377.00)" fill="#2a3eb1">L</text>
<text transform="matrix(0.0759 0 0 0.3478 407.85 370.60)" fill="#ecec2a">P</text>
<text transform="matrix(0.0840 0 0 0.0580 407.80 374.60)" fill="#2a3eb1">L</text>
<text transform="matrix(0.0703 0 0 0.0348 407.89 377.00)" fill="#b14fb8">D</text>
<text transform="matrix(0.0703 0 0 0.5348 412.46 377.00)" fill="#b14fb8">D</text>
<text transform="matrix(0.0646 0 0 0.2174 417.34 373.30)" fill="#2a3eb1">A</text>
<text transform="matrix(0.0733 0 0 0.0536 417.42 377.00)" fill="#1f8a3c">T</text>
<text transform="matrix(0.0759 0 0 0.5348 421.58 377.00)" fill="#ecec2a">P</text>
<text transform="matrix(0.0721 0 0 0.1690 426.43 367.23)" fill="#1f8a3c">S</text>
<text transform="matrix(0.0733 0 0 0.0870 426.17 373.40)" fill="#1f8a3c">N</text>
<text transform="matrix(0.0733 0 0 0.0522 426.58 377.00)" fill="#1f8a3c">T</text>
<text transform="matrix(0.0759 0 0 0.5348 430.73 377.00)" fill="#ecec2a">P</text>
<text transform="matrix(0.0721 0 0 0.2817 435.58 367.82)" fill="#1f8a3c">S</text>
<text transform="matrix(0.0703 0 0 0.1014 435.34 375.10)" fill="#b14fb8">D</text>
<text transform="matrix(0.0733 0 0 0.0275 435.32 377.00)" fill="#1f8a3c">N</text>
<text transform="matrix(0.0733 0 0 0.2029 439.90 369.40)" fill="#1f8a3c">N</text>
<text transform="matrix(0.0703 0 0 0.0725 439.92 374.40)" fill="#b14fb8">D</text>
<text transform="matrix(0.0721 0 0 0.0366 440.16 376.96)" fill="#1f8a3c">S</text>
<text transform="matrix(0.0759 0 0 0.5348 444.46 377.00)" fill="#ecec2a">P</text>
<text transform="matrix(0.0733 0 0 0.0870 449.46 364.30)" fill="#1f8a3c">T</text>
<text transform="matrix(0.0840 0 0 0.0580 448.98 368.30)" fill="#2a3eb1">L</text>
<text transform="matrix(0.0733 0 0 0.0435 449.05 371.30)" fill="#1f8a3c">N</text>
<text transform="matrix(0.0671 0 0 0.0391 449.09 374.00)" fill="#d01c2a">K</text>
<text transform="matrix(0.0681 0 0 0.0435 449.09 377.00)" fill="#d01c2a">R</text>
<text transform="matrix(0.0840 0 0 0.2174 453.56 368.90)" fill="#2a3eb1">L</text>
<text transform="matrix(0.0733 0 0 0.0725 453.63 373.90)" fill="#1f8a3c">N</text>
<text transform="matrix(0.0721 0 0 0.0437 453.89 376.96)" fill="#1f8a3c">S</text>
<text transform="matrix(0.0681 0 0 0.3478 458.24 371.40)" fill="#d01c2a">R</text>
<text transform="matrix(0.0671 0 0 0.0812 458.25 377.00)" fill="#d01c2a">K</text>
<text transform="matrix(0.0766 0 0 0.5348 462.76 377.00)" fill="#b14fb8">E</text>
<text transform="matrix(0.0687 0 0 0.2029 467.70 365.70)" fill="#5cc8b8">Y</text>
<text transform="matrix(0.0733 0 0 0.0580 467.36 369.70)" fill="#f8c3c7">H</text>
<text transform="matrix(0.0766 0 0 0.0435 467.34 372.70)" fill="#b14fb8">E</text>
<text transform="matrix(0.0733 0 0 0.0290 467.36 374.70)" fill="#1f8a3c">N</text>
<text transform="matrix(0.0721 0 0 0.0324 467.62 376.97)" fill="#1f8a3c">S</text>
<text transform="matrix(0.0840 0 0 0.4058 471.86 372.50)" fill="#2a3eb1">L</text>
<text transform="matrix(0.0733 0 0 0.0362 471.93 375.00)" fill="#1f8a3c">N</text>
<text transform="matrix(0.0721 0 0 0.0282 472.19 376.97)" fill="#1f8a3c">S</text>
<text transform="matrix(0.0733 0 0 0.4710 476.51 377.00)" fill="#f8c3c7">H</text>
<text transform="matrix(0.0618 0 0 0.5348 481.16 377.00)" fill="#2a3eb1">M</text>
<text transform="matrix(0.0460 0 0 0.3188 486.14 371.50)" fill="#2a3eb1">W</text>
<text transform="matrix(0.0618 0 0 0.0797 485.74 377.00)" fill="#2a3eb1">M</text>
<text transform="matrix(0.0687 0 0 0.5348 490.58 377.00)" fill="#2a3eb1">Y</text>
<text transform="matrix(0.0733 0 0 0.3478 495.22 371.00)" fill="#1f8a3c">T</text>
<text transform="matrix(0.0687 0 0 0.0290 495.15 373.00)" fill="#5cc8b8">Y</text>
<text transform="matrix(0.0618 0 0 0.0290 494.89 375.00)" fill="#2a3eb1">M</text>
<text transform="matrix(0.0733 0 0 0.0290 494.81 377.00)" fill="#1f8a3c">N</text>
<text transform="matrix(0.0703 0 0 0.4058 499.41 371.80)" fill="#b14fb8">D</text>
<text transform="matrix(0.0733 0 0 0.0290 499.39 373.80)" fill="#1f8a3c">N</text>
<text transform="matrix(0.0721 0 0 0.0451 499.65 376.95)" fill="#1f8a3c">S</text>
<text transform="matrix(0.0656 0 0 0.5348 505.70 377.00)" fill="#2a3eb1">I</text>
<text transform="matrix(0.0759 0 0 0.4058 508.52 371.80)" fill="#ecec2a">P</text>
<text transform="matrix(0.0622 0 0 0.0279 508.77 373.76)" fill="#1f8a3c">Q</text>
<text transform="matrix(0.0766 0 0 0.0391 508.52 377.00)" fill="#b14fb8">E</text>
<text transform="matrix(0.0641 0 0 0.1127 513.34 361.09)" fill="#f2a418">G</text>
<text transform="matrix(0.0646 0 0 0.1159 513.43 369.20)" fill="#2a3eb1">A</text>
<text transform="matrix(0.0766 0 0 0.0725 513.10 374.20)" fill="#b14fb8">E</text>
<text transform="matrix(0.0622 0 0 0.0313 513.34 376.39)" fill="#1f8a3c">Q</text>
<text transform="matrix(0.0733 0 0 0.3478 518.10 371.00)" fill="#1f8a3c">T</text>
<text transform="matrix(0.0687 0 0 0.0435 518.03 374.00)" fill="#5cc8b8">Y</text>
<text transform="matrix(0.0618 0 0 0.0435 517.77 377.00)" fill="#2a3eb1">M</text>
<text transform="matrix(0.0733 0 0 0.3768 522.67 370.40)" fill="#1f8a3c">T</text>
<text transform="matrix(0.0733 0 0 0.0580 522.27 374.40)" fill="#1f8a3c">N</text>
<text transform="matrix(0.0460 0 0 0.0377 522.75 377.00)" fill="#2a3eb1">W</text>
<text transform="matrix(0.0703 0 0 0.1449 526.86 364.50)" fill="#b14fb8">D</text>
<text transform="matrix(0.0733 0 0 0.0580 526.84 368.50)" fill="#1f8a3c">N</text>
<text transform="matrix(0.0622 0 0 0.0335 527.07 370.85)" fill="#1f8a3c">Q</text>
<text transform="matrix(0.0681 0 0 0.0435 526.88 374.50)" fill="#d01c2a">R</text>
<text transform="matrix(0.0687 0 0 0.0362 527.18 377.00)" fill="#5cc8b8">Y</text>
<text transform="matrix(0.0646 0 0 0.1594 531.74 367.40)" fill="#2a3eb1">A</text>
<text transform="matrix(0.0733 0 0 0.0580 531.42 371.40)" fill="#1f8a3c">N</text>
<text transform="matrix(0.0840 0 0 0.0435 531.35 374.40)" fill="#2a3eb1">L</text>
<text transform="matrix(0.0671 0 0 0.0377 531.46 377.00)" fill="#d01c2a">K</text>
<text transform="matrix(0.0721 0 0 0.1690 536.26 366.83)" fill="#1f8a3c">S</text>
<text transform="matrix(0.0733 0 0 0.0580 536.40 371.00)" fill="#1f8a3c">T</text>
<text transform="matrix(0.0666 0 0 0.0435 536.41 374.00)" fill="#2a3eb1">V</text>
<text transform="matrix(0.0671 0 0 0.0435 536.04 377.00)" fill="#d01c2a">K</text>
<text transform="matrix(0.0848 0 0 0.3478 540.50 372.20)" fill="#2a3eb1">F</text>
<text transform="matrix(0.0687 0 0 0.0406 540.91 375.00)" fill="#5cc8b8">Y</text>
<text transform="matrix(0.0671 0 0 0.0290 540.61 377.00)" fill="#d01c2a">K</text>
<text transform="matrix(0.1036 0 0 0.2058 316.80 414.50)" fill="#2a3eb1">M</text>
<text transform="matrix(0.1142 0 0 0.0507 316.73 418.00)" fill="#d01c2a">R</text>
<text transform="matrix(0.1229 0 0 0.0290 317.35 420.00)" fill="#1f8a3c">T</text>
<text transform="matrix(0.1283 0 0 0.0217 316.64 421.50)" fill="#b14fb8">E</text>
<text transform="matrix(0.1074 0 0 0.0211 317.05 422.98)" fill="#f2a418">G</text>
<text transform="matrix(0.1208 0 0 0.1549 324.71 413.65)" fill="#1f8a3c">S</text>
<text transform="matrix(0.1115 0 0 0.0435 324.96 416.80)" fill="#2a3eb1">V</text>
<text transform="matrix(0.1074 0 0 0.0282 324.65 418.77)" fill="#f2a418">G</text>
<text transform="matrix(0.1082 0 0 0.0290 324.80 420.80)" fill="#2a3eb1">A</text>
<text transform="matrix(0.1272 0 0 0.0319 324.25 423.00)" fill="#ecec2a">P</text>
<text transform="matrix(0.1142 0 0 0.1739 331.93 414.10)" fill="#d01c2a">R</text>
<text transform="matrix(0.1115 0 0 0.0507 332.56 417.60)" fill="#2a3eb1">V</text>
<text transform="matrix(0.1074 0 0 0.0352 332.25 420.06)" fill="#f2a418">G</text>
<text transform="matrix(0.1208 0 0 0.0408 332.31 422.96)" fill="#1f8a3c">S</text>
<text transform="matrix(0.1179 0 0 0.2348 339.51 416.20)" fill="#b14fb8">D</text>
<text transform="matrix(0.1283 0 0 0.0986 339.44 423.00)" fill="#b14fb8">E</text>
<text transform="matrix(0.1272 0 0 0.1884 347.05 409.20)" fill="#ecec2a">P</text>
<text transform="matrix(0.1208 0 0 0.1620 347.51 420.54)" fill="#1f8a3c">S</text>
<text transform="matrix(0.1179 0 0 0.0333 347.11 423.00)" fill="#b14fb8">D</text>
<text transform="matrix(0.1408 0 0 0.2319 354.56 411.40)" fill="#2a3eb1">L</text>
<text transform="matrix(0.1208 0 0 0.1197 355.11 419.78)" fill="#1f8a3c">S</text>
<text transform="matrix(0.1082 0 0 0.0217 355.20 421.40)" fill="#2a3eb1">A</text>
<text transform="matrix(0.1229 0 0 0.0232 355.35 423.00)" fill="#1f8a3c">T</text>
<text transform="matrix(0.1115 0 0 0.1159 362.96 413.20)" fill="#2a3eb1">V</text>
<text transform="matrix(0.1208 0 0 0.0423 362.71 416.16)" fill="#1f8a3c">S</text>
<text transform="matrix(0.1229 0 0 0.0290 362.28 418.20)" fill="#1f8a3c">N</text>
<text transform="matrix(0.1229 0 0 0.0290 362.95 420.20)" fill="#1f8a3c">T</text>
<text transform="matrix(0.1283 0 0 0.0406 362.24 423.00)" fill="#b14fb8">E</text>
<text transform="matrix(0.1115 0 0 0.1739 370.56 412.30)" fill="#2a3eb1">V</text>
<text transform="matrix(0.1436 0 0 0.0980 370.10 418.04)" fill="#2a3eb1">+</text>
<text transform="matrix(0.1082 0 0 0.0435 370.40 420.30)" fill="#2a3eb1">A</text>
<text transform="matrix(0.1408 0 0 0.0391 369.76 423.00)" fill="#2a3eb1">L</text>
<text transform="matrix(0.1074 0 0 0.1268 377.85 413.47)" fill="#f2a418">G</text>
<text transform="matrix(0.1229 0 0 0.0725 377.48 418.60)" fill="#1f8a3c">N</text>
<text transform="matrix(0.1208 0 0 0.0282 377.91 420.57)" fill="#1f8a3c">S</text>
<text transform="matrix(0.1082 0 0 0.0348 378.00 423.00)" fill="#2a3eb1">A</text>
<text transform="matrix(0.1142 0 0 0.1304 385.13 411.40)" fill="#d01c2a">R</text>
<text transform="matrix(0.1229 0 0 0.1014 385.08 418.40)" fill="#1f8a3c">N</text>
<text transform="matrix(0.1208 0 0 0.0282 385.51 420.37)" fill="#1f8a3c">S</text>
<text transform="matrix(0.1283 0 0 0.0377 385.04 423.00)" fill="#b14fb8">E</text>
<text transform="matrix(0.1115 0 0 0.1739 393.36 411.20)" fill="#2a3eb1">V</text>
<text transform="matrix(0.1408 0 0 0.0725 392.56 416.20)" fill="#2a3eb1">L</text>
<text transform="matrix(0.1229 0 0 0.0435 393.35 419.20)" fill="#1f8a3c">T</text>
<text transform="matrix(0.1100 0 0 0.0290 395.59 421.20)" fill="#2a3eb1">I</text>
<text transform="matrix(0.1036 0 0 0.0261 392.80 423.00)" fill="#2a3eb1">M</text>
<text transform="matrix(0.1100 0 0 0.1014 403.19 407.90)" fill="#2a3eb1">I</text>
<text transform="matrix(0.1115 0 0 0.1014 400.96 414.90)" fill="#2a3eb1">V</text>
<text transform="matrix(0.1408 0 0 0.0435 400.16 417.90)" fill="#2a3eb1">L</text>
<text transform="matrix(0.1229 0 0 0.0435 400.95 420.90)" fill="#1f8a3c">T</text>
<text transform="matrix(0.1208 0 0 0.0296 400.71 422.97)" fill="#1f8a3c">S</text>
<text transform="matrix(0.1074 0 0 0.2113 408.25 411.59)" fill="#f2a418">G</text>
<text transform="matrix(0.1142 0 0 0.0725 407.93 416.80)" fill="#b14fb8">R</text>
<text transform="matrix(0.1283 0 0 0.0435 407.84 419.80)" fill="#b14fb8">E</text>
<text transform="matrix(0.1208 0 0 0.0451 408.31 422.95)" fill="#1f8a3c">S</text>
<text transform="matrix(0.1179 0 0 0.2174 415.51 411.10)" fill="#b14fb8">D</text>
<text transform="matrix(0.1283 0 0 0.1014 415.44 418.10)" fill="#b14fb8">E</text>
<text transform="matrix(0.1208 0 0 0.0282 415.91 420.07)" fill="#1f8a3c">S</text>
<text transform="matrix(0.1082 0 0 0.0420 416.00 423.00)" fill="#2a3eb1">A</text>
<text transform="matrix(0.1115 0 0 0.2609 423.76 414.10)" fill="#2a3eb1">V</text>
<text transform="matrix(0.1100 0 0 0.0580 425.99 418.10)" fill="#2a3eb1">I</text>
<text transform="matrix(0.1082 0 0 0.0290 423.60 420.10)" fill="#2a3eb1">A</text>
<text transform="matrix(0.1229 0 0 0.0420 423.75 423.00)" fill="#1f8a3c">T</text>
<text transform="matrix(0.1408 0 0 0.1884 430.56 412.00)" fill="#2a3eb1">L</text>
<text transform="matrix(0.1082 0 0 0.0725 431.20 417.00)" fill="#2a3eb1">A</text>
<text transform="matrix(0.1115 0 0 0.0435 431.36 420.00)" fill="#2a3eb1">V</text>
<text transform="matrix(0.1208 0 0 0.0423 431.11 422.96)" fill="#1f8a3c">S</text>
<text transform="matrix(0.1179 0 0 0.2029 438.31 413.00)" fill="#b14fb8">D</text>
<text transform="matrix(0.1074 0 0 0.0775 438.65 418.42)" fill="#f2a418">G</text>
<text transform="matrix(0.1208 0 0 0.0282 438.71 420.47)" fill="#1f8a3c">S</text>
<text transform="matrix(0.1283 0 0 0.0362 438.24 423.00)" fill="#b14fb8">E</text>
<text transform="matrix(0.1272 0 0 0.1957 445.85 412.00)" fill="#ecec2a">P</text>
<text transform="matrix(0.1208 0 0 0.0986 446.31 418.90)" fill="#1f8a3c">S</text>
<text transform="matrix(0.1229 0 0 0.0290 446.55 421.00)" fill="#1f8a3c">T</text>
<text transform="matrix(0.1082 0 0 0.0290 446.40 423.00)" fill="#2a3eb1">A</text>
<text transform="matrix(0.1422 0 0 0.4855 453.35 421.70)" fill="#2a3eb1">F</text>
<text transform="matrix(0.1082 0 0 0.0188 454.00 423.00)" fill="#2a3eb1">A</text>
<text transform="matrix(0.1229 0 0 0.0435 461.08 412.40)" fill="#1f8a3c">N</text>
<text transform="matrix(0.1229 0 0 0.0290 461.75 414.40)" fill="#1f8a3c">T</text>
<text transform="matrix(0.1283 0 0 0.0362 461.04 416.90)" fill="#b14fb8">E</text>
<text transform="matrix(0.1179 0 0 0.0290 461.11 418.90)" fill="#b14fb8">D</text>
<text transform="matrix(0.1142 0 0 0.0290 461.13 420.90)" fill="#d01c2a">R</text>
<text transform="matrix(0.1082 0 0 0.0304 461.60 423.00)" fill="#2a3eb1">A</text>
<text transform="matrix(0.1142 0 0 0.1449 468.73 413.40)" fill="#d01c2a">R</text>
<text transform="matrix(0.1229 0 0 0.0435 469.35 416.40)" fill="#1f8a3c">T</text>
<text transform="matrix(0.1043 0 0 0.0335 469.06 418.75)" fill="#1f8a3c">Q</text>
<text transform="matrix(0.1208 0 0 0.0282 469.11 421.37)" fill="#1f8a3c">S</text>
<text transform="matrix(0.1082 0 0 0.0232 469.20 423.00)" fill="#2a3eb1">A</text>
<text transform="matrix(0.1208 0 0 0.2113 476.71 412.19)" fill="#1f8a3c">S</text>
<text transform="matrix(0.1229 0 0 0.0725 476.95 417.40)" fill="#2a3eb1">T</text>
<text transform="matrix(0.1082 0 0 0.0435 476.80 420.40)" fill="#2a3eb1">A</text>
<text transform="matrix(0.1229 0 0 0.0377 476.28 423.00)" fill="#1f8a3c">N</text>
<text transform="matrix(0.1115 0 0 0.1449 484.56 411.80)" fill="#2a3eb1">V</text>
<text transform="matrix(0.1082 0 0 0.0725 484.40 416.80)" fill="#2a3eb1">A</text>
<text transform="matrix(0.1036 0 0 0.0435 484.00 419.80)" fill="#2a3eb1">M</text>
<text transform="matrix(0.1229 0 0 0.0464 484.55 423.00)" fill="#1f8a3c">T</text>
<text transform="matrix(0.1229 0 0 0.1014 492.15 410.40)" fill="#1f8a3c">T</text>
<text transform="matrix(0.1208 0 0 0.0563 491.91 414.34)" fill="#1f8a3c">S</text>
<text transform="matrix(0.1036 0 0 0.0580 491.60 418.40)" fill="#2a3eb1">M</text>
<text transform="matrix(0.1082 0 0 0.0377 492.00 421.00)" fill="#2a3eb1">A</text>
<text transform="matrix(0.1408 0 0 0.0290 491.36 423.00)" fill="#2a3eb1">L</text>
<text transform="matrix(0.1036 0 0 0.1304 499.20 408.10)" fill="#2a3eb1">M</text>
<text transform="matrix(0.1408 0 0 0.1449 498.96 418.10)" fill="#2a3eb1">L</text>
<text transform="matrix(0.1124 0 0 0.0290 499.14 420.10)" fill="#d01c2a">K</text>
<text transform="matrix(0.1082 0 0 0.0420 499.60 423.00)" fill="#2a3eb1">A</text>
<text transform="matrix(0.1142 0 0 0.1159 506.73 410.40)" fill="#d01c2a">R</text>
<text transform="matrix(0.1208 0 0 0.0845 507.11 416.32)" fill="#1f8a3c">S</text>
<text transform="matrix(0.1124 0 0 0.0580 506.74 420.40)" fill="#d01c2a">K</text>
<text transform="matrix(0.1229 0 0 0.0377 507.35 423.00)" fill="#1f8a3c">T</text>
<text transform="matrix(0.1115 0 0 0.3043 514.96 416.30)" fill="#2a3eb1">V</text>
<text transform="matrix(0.1100 0 0 0.0580 517.19 420.30)" fill="#2a3eb1">I</text>
<text transform="matrix(0.1229 0 0 0.0391 514.95 423.00)" fill="#1f8a3c">T</text>
<text transform="matrix(0.1436 0 0 0.0980 522.10 414.14)" fill="#2a3eb1">+</text>
<text transform="matrix(0.1100 0 0 0.0435 524.79 416.40)" fill="#2a3eb1">I</text>
<text transform="matrix(0.1208 0 0 0.0282 522.31 418.37)" fill="#1f8a3c">S</text>
<text transform="matrix(0.1422 0 0 0.0377 521.75 421.00)" fill="#2a3eb1">F</text>
<text transform="matrix(0.1082 0 0 0.0290 522.40 423.00)" fill="#2a3eb1">A</text>
<text transform="matrix(0.1151 0 0 0.3478 530.04 418.20)" fill="#5cc8b8">Y</text>
<text transform="matrix(0.1422 0 0 0.0435 529.35 421.20)" fill="#2a3eb1">F</text>
<text transform="matrix(0.1074 0 0 0.0254 529.85 422.97)" fill="#f2a418">G</text>
<text transform="matrix(0.1229 0 0 0.3261 537.08 417.80)" fill="#1f8a3c">N</text>
<text transform="matrix(0.1074 0 0 0.0423 537.45 420.76)" fill="#f2a418">G</text>
<text transform="matrix(0.1043 0 0 0.0246 537.46 422.52)" fill="#1f8a3c">Q</text>
</g>
<line x1="29.2" y1="344.5" x2="29.2" y2="373.5" stroke="#777" stroke-width="0.5"/>
<line x1="28.0" y1="373.50" x2="29.2" y2="373.50" stroke="#777" stroke-width="0.5"/>
<text x="27.40" y="374.40" font-size="3" fill="#333" text-anchor="end" font-family="Liberation Sans, sans-serif">0</text>
<line x1="28.0" y1="366.25" x2="29.2" y2="366.25" stroke="#777" stroke-width="0.5"/>
<text x="27.40" y="367.15" font-size="3" fill="#333" text-anchor="end" font-family="Liberation Sans, sans-serif">1</text>
<line x1="28.0" y1="359.00" x2="29.2" y2="359.00" stroke="#777" stroke-width="0.5"/>
<text x="27.40" y="359.90" font-size="3" fill="#333" text-anchor="end" font-family="Liberation Sans, sans-serif">2</text>
<line x1="28.0" y1="351.75" x2="29.2" y2="351.75" stroke="#777" stroke-width="0.5"/>
<text x="27.40" y="352.65" font-size="3" fill="#333" text-anchor="end" font-family="Liberation Sans, sans-serif">3</text>
<line x1="28.0" y1="344.50" x2="29.2" y2="344.50" stroke="#777" stroke-width="0.5"/>
<text x="27.40" y="345.40" font-size="3" fill="#333" text-anchor="end" font-family="Liberation Sans, sans-serif">4</text>
<line x1="29.5" y1="389.0" x2="29.5" y2="418.0" stroke="#777" stroke-width="0.5"/>
<line x1="28.3" y1="418.00" x2="29.5" y2="418.00" stroke="#777" stroke-width="0.5"/>
<text x="27.70" y="418.90" font-size="3" fill="#333" text-anchor="end" font-family="Liberation Sans, sans-serif">0</text>
<line x1="28.3" y1="410.75" x2="29.5" y2="410.75" stroke="#777" stroke-width="0.5"/>
<text x="27.70" y="411.65" font-size="3" fill="#333" text-anchor="end" font-family="Liberation Sans, sans-serif">1</text>
<line x1="28.3" y1="403.50" x2="29.5" y2="403.50" stroke="#777" stroke-width="0.5"/>
<text x="27.70" y="404.40" font-size="3" fill="#333" text-anchor="end" font-family="Liberation Sans, sans-serif">2</text>
<line x1="28.3" y1="396.25" x2="29.5" y2="396.25" stroke="#777" stroke-width="0.5"/>
<text x="27.70" y="397.15" font-size="3" fill="#333" text-anchor="end" font-family="Liberation Sans, sans-serif">3</text>
<line x1="28.3" y1="389.00" x2="29.5" y2="389.00" stroke="#777" stroke-width="0.5"/>
<text x="27.70" y="389.90" font-size="3" fill="#333" text-anchor="end" font-family="Liberation Sans, sans-serif">4</text>
<line x1="29.9" y1="440.4" x2="29.9" y2="468.0" stroke="#777" stroke-width="0.5"/>
<line x1="28.7" y1="468.00" x2="29.9" y2="468.00" stroke="#777" stroke-width="0.5"/>
<text x="28.10" y="468.90" font-size="3" fill="#333" text-anchor="end" font-family="Liberation Sans, sans-serif">0</text>
<line x1="28.7" y1="461.10" x2="29.9" y2="461.10" stroke="#777" stroke-width="0.5"/>
<text x="28.10" y="462.00" font-size="3" fill="#333" text-anchor="end" font-family="Liberation Sans, sans-serif">1</text>
<line x1="28.7" y1="454.20" x2="29.9" y2="454.20" stroke="#777" stroke-width="0.5"/>
<text x="28.10" y="455.10" font-size="3" fill="#333" text-anchor="end" font-family="Liberation Sans, sans-serif">2</text>
<line x1="28.7" y1="447.30" x2="29.9" y2="447.30" stroke="#777" stroke-width="0.5"/>
<text x="28.10" y="448.20" font-size="3" fill="#333" text-anchor="end" font-family="Liberation Sans, sans-serif">3</text>
<line x1="28.7" y1="440.40" x2="29.9" y2="440.40" stroke="#777" stroke-width="0.5"/>
<text x="28.10" y="441.30" font-size="3" fill="#333" text-anchor="end" font-family="Liberation Sans, sans-serif">4</text>
<line x1="315.7" y1="341.5" x2="315.7" y2="377.0" stroke="#777" stroke-width="0.5"/>
<line x1="314.5" y1="377.00" x2="315.7" y2="377.00" stroke="#777" stroke-width="0.5"/>
<text x="313.90" y="377.90" font-size="3" fill="#333" text-anchor="end" font-family="Liberation Sans, sans-serif">0</text>
<line x1="314.5" y1="368.12" x2="315.7" y2="368.12" stroke="#777" stroke-width="0.5"/>
<text x="313.90" y="369.02" font-size="3" fill="#333" text-anchor="end" font-family="Liberation Sans, sans-serif">1</text>
<line x1="314.5" y1="359.25" x2="315.7" y2="359.25" stroke="#777" stroke-width="0.5"/>
<text x="313.90" y="360.15" font-size="3" fill="#333" text-anchor="end" font-family="Liberation Sans, sans-serif">2</text>
<line x1="314.5" y1="350.38" x2="315.7" y2="350.38" stroke="#777" stroke-width="0.5"/>
<text x="313.90" y="351.27" font-size="3" fill="#333" text-anchor="end" font-family="Liberation Sans, sans-serif">3</text>
<line x1="314.5" y1="341.50" x2="315.7" y2="341.50" stroke="#777" stroke-width="0.5"/>
<text x="313.90" y="342.40" font-size="3" fill="#333" text-anchor="end" font-family="Liberation Sans, sans-serif">4</text>
<line x1="316.8" y1="390.4" x2="316.8" y2="423.0" stroke="#777" stroke-width="0.5"/>
<line x1="315.6" y1="423.00" x2="316.8" y2="423.00" stroke="#777" stroke-width="0.5"/>
<text x="315.00" y="423.90" font-size="3" fill="#333" text-anchor="end" font-family="Liberation Sans, sans-serif">0</text>
<line x1="315.6" y1="414.85" x2="316.8" y2="414.85" stroke="#777" stroke-width="0.5"/>
<text x="315.00" y="415.75" font-size="3" fill="#333" text-anchor="end" font-family="Liberation Sans, sans-serif">1</text>
<line x1="315.6" y1="406.70" x2="316.8" y2="406.70" stroke="#777" stroke-width="0.5"/>
<text x="315.00" y="407.60" font-size="3" fill="#333" text-anchor="end" font-family="Liberation Sans, sans-serif">2</text>
<line x1="315.6" y1="398.55" x2="316.8" y2="398.55" stroke="#777" stroke-width="0.5"/>
<text x="315.00" y="399.45" font-size="3" fill="#333" text-anchor="end" font-family="Liberation Sans, sans-serif">3</text>
<line x1="315.6" y1="390.40" x2="316.8" y2="390.40" stroke="#777" stroke-width="0.5"/>
<text x="315.00" y="391.30" font-size="3" fill="#333" text-anchor="end" font-family="Liberation Sans, sans-serif">4</text>
<rect x="32.63" y="374.30" width="1.2" height="2.0" fill="#aaa"/>
<rect x="38.69" y="374.30" width="1.2" height="2.0" fill="#aaa"/>
<rect x="44.75" y="374.30" width="1.2" height="2.0" fill="#aaa"/>
<rect x="50.81" y="374.30" width="1.2" height="2.0" fill="#aaa"/>
<rect x="56.87" y="374.30" width="1.2" height="2.0" fill="#aaa"/>
<rect x="62.93" y="374.30" width="1.2" height="2.0" fill="#aaa"/>
<rect x="68.99" y="374.30" width="1.2" height="2.0" fill="#aaa"/>
<rect x="75.05" y="374.30" width="1.2" height="2.0" fill="#aaa"/>
<rect x="81.11" y="374.30" width="1.2" height="2.0" fill="#aaa"/>
<rect x="87.17" y="374.30" width="1.2" height="2.0" fill="#aaa"/>
<rect x="93.23" y="374.30" width="1.2" height="2.0" fill="#aaa"/>
<rect x="99.29" y="374.30" width="1.2" height="2.0" fill="#aaa"/>
<rect x="105.35" y="374.30" width="1.2" height="2.0" fill="#aaa"/>
<rect x="111.41" y="374.30" width="1.2" height="2.0" fill="#aaa"/>
<rect x="117.47" y="374.30" width="1.2" height="2.0" fill="#aaa"/>
<rect x="123.53" y="374.30" width="1.2" height="2.0" fill="#aaa"/>
<rect x="129.59" y="374.30" width="1.2" height="2.0" fill="#aaa"/>
<rect x="135.65" y="374.30" width="1.2" height="2.0" fill="#aaa"/>
<rect x="141.71" y="374.30" width="1.2" height="2.0" fill="#aaa"/>
<rect x="147.77" y="374.30" width="1.2" height="2.0" fill="#aaa"/>
<rect x="153.83" y="374.30" width="1.2" height="2.0" fill="#aaa"/>
<rect x="159.89" y="374.30" width="1.2" height="2.0" fill="#aaa"/>
<rect x="165.95" y="374.30" width="1.2" height="2.0" fill="#aaa"/>
<rect x="172.01" y="374.30" width="1.2" height="2.0" fill="#aaa"/>
<rect x="178.07" y="374.30" width="1.2" height="2.0" fill="#aaa"/>
<rect x="184.13" y="374.30" width="1.2" height="2.0" fill="#aaa"/>
<rect x="190.19" y="374.30" width="1.2" height="2.0" fill="#aaa"/>
<rect x="196.25" y="374.30" width="1.2" height="2.0" fill="#aaa"/>
<rect x="202.31" y="374.30" width="1.2" height="2.0" fill="#aaa"/>
<rect x="208.37" y="374.30" width="1.2" height="2.0" fill="#aaa"/>
<rect x="214.43" y="374.30" width="1.2" height="2.0" fill="#aaa"/>
<rect x="220.49" y="374.30" width="1.2" height="2.0" fill="#aaa"/>
<rect x="226.55" y="374.30" width="1.2" height="2.0" fill="#aaa"/>
<rect x="232.61" y="374.30" width="1.2" height="2.0" fill="#aaa"/>
<rect x="238.67" y="374.30" width="1.2" height="2.0" fill="#aaa"/>
<rect x="244.73" y="374.30" width="1.2" height="2.0" fill="#aaa"/>
<rect x="250.79" y="374.30" width="1.2" height="2.0" fill="#aaa"/>
<rect x="256.85" y="374.30" width="1.2" height="2.0" fill="#aaa"/>
<rect x="262.91" y="374.30" width="1.2" height="2.0" fill="#aaa"/>
<rect x="268.97" y="374.30" width="1.2" height="2.0" fill="#aaa"/>
<rect x="275.03" y="374.30" width="1.2" height="2.0" fill="#aaa"/>
<rect x="33.82" y="418.80" width="1.2" height="2.0" fill="#aaa"/>
<rect x="42.27" y="418.80" width="1.2" height="2.0" fill="#aaa"/>
<rect x="50.72" y="418.80" width="1.2" height="2.0" fill="#aaa"/>
<rect x="59.17" y="418.80" width="1.2" height="2.0" fill="#aaa"/>
<rect x="67.62" y="418.80" width="1.2" height="2.0" fill="#aaa"/>
<rect x="76.08" y="418.80" width="1.2" height="2.0" fill="#aaa"/>
<rect x="84.52" y="418.80" width="1.2" height="2.0" fill="#aaa"/>
<rect x="92.97" y="418.80" width="1.2" height="2.0" fill="#aaa"/>
<rect x="101.42" y="418.80" width="1.2" height="2.0" fill="#aaa"/>
<rect x="109.88" y="418.80" width="1.2" height="2.0" fill="#aaa"/>
<rect x="118.33" y="418.80" width="1.2" height="2.0" fill="#aaa"/>
<rect x="126.77" y="418.80" width="1.2" height="2.0" fill="#aaa"/>
<rect x="135.22" y="418.80" width="1.2" height="2.0" fill="#aaa"/>
<rect x="143.67" y="418.80" width="1.2" height="2.0" fill="#aaa"/>
<rect x="152.12" y="418.80" width="1.2" height="2.0" fill="#aaa"/>
<rect x="160.57" y="418.80" width="1.2" height="2.0" fill="#aaa"/>
<rect x="169.02" y="418.80" width="1.2" height="2.0" fill="#aaa"/>
<rect x="177.47" y="418.80" width="1.2" height="2.0" fill="#aaa"/>
<rect x="185.92" y="418.80" width="1.2" height="2.0" fill="#aaa"/>
<rect x="194.37" y="418.80" width="1.2" height="2.0" fill="#aaa"/>
<rect x="202.82" y="418.80" width="1.2" height="2.0" fill="#aaa"/>
<rect x="211.27" y="418.80" width="1.2" height="2.0" fill="#aaa"/>
<rect x="219.72" y="418.80" width="1.2" height="2.0" fill="#aaa"/>
<rect x="228.17" y="418.80" width="1.2" height="2.0" fill="#aaa"/>
<rect x="236.62" y="418.80" width="1.2" height="2.0" fill="#aaa"/>
<rect x="245.07" y="418.80" width="1.2" height="2.0" fill="#aaa"/>
<rect x="253.52" y="418.80" width="1.2" height="2.0" fill="#aaa"/>
<rect x="261.97" y="418.80" width="1.2" height="2.0" fill="#aaa"/>
<rect x="270.42" y="418.80" width="1.2" height="2.0" fill="#aaa"/>
<rect x="36.30" y="468.80" width="1.2" height="2.0" fill="#aaa"/>
<rect x="49.10" y="468.80" width="1.2" height="2.0" fill="#aaa"/>
<rect x="61.90" y="468.80" width="1.2" height="2.0" fill="#aaa"/>
<rect x="74.70" y="468.80" width="1.2" height="2.0" fill="#aaa"/>
<rect x="87.50" y="468.80" width="1.2" height="2.0" fill="#aaa"/>
<rect x="100.30" y="468.80" width="1.2" height="2.0" fill="#aaa"/>
<rect x="113.10" y="468.80" width="1.2" height="2.0" fill="#aaa"/>
<rect x="125.90" y="468.80" width="1.2" height="2.0" fill="#aaa"/>
<rect x="138.70" y="468.80" width="1.2" height="2.0" fill="#aaa"/>
<rect x="151.50" y="468.80" width="1.2" height="2.0" fill="#aaa"/>
<rect x="164.30" y="468.80" width="1.2" height="2.0" fill="#aaa"/>
<rect x="177.10" y="468.80" width="1.2" height="2.0" fill="#aaa"/>
<rect x="189.90" y="468.80" width="1.2" height="2.0" fill="#aaa"/>
<rect x="202.70" y="468.80" width="1.2" height="2.0" fill="#aaa"/>
<rect x="215.50" y="468.80" width="1.2" height="2.0" fill="#aaa"/>
<rect x="318.39" y="377.80" width="1.2" height="2.0" fill="#aaa"/>
<rect x="322.96" y="377.80" width="1.2" height="2.0" fill="#aaa"/>
<rect x="327.54" y="377.80" width="1.2" height="2.0" fill="#aaa"/>
<rect x="332.12" y="377.80" width="1.2" height="2.0" fill="#aaa"/>
<rect x="336.69" y="377.80" width="1.2" height="2.0" fill="#aaa"/>
<rect x="341.27" y="377.80" width="1.2" height="2.0" fill="#aaa"/>
<rect x="345.84" y="377.80" width="1.2" height="2.0" fill="#aaa"/>
<rect x="350.42" y="377.80" width="1.2" height="2.0" fill="#aaa"/>
<rect x="355.00" y="377.80" width="1.2" height="2.0" fill="#aaa"/>
<rect x="359.57" y="377.80" width="1.2" height="2.0" fill="#aaa"/>
<rect x="364.15" y="377.80" width="1.2" height="2.0" fill="#aaa"/>
<rect x="368.72" y="377.80" width="1.2" height="2.0" fill="#aaa"/>
<rect x="373.30" y="377.80" width="1.2" height="2.0" fill="#aaa"/>
<rect x="377.88" y="377.80" width="1.2" height="2.0" fill="#aaa"/>
<rect x="382.45" y="377.80" width="1.2" height="2.0" fill="#aaa"/>
<rect x="387.03" y="377.80" width="1.2" height="2.0" fill="#aaa"/>
<rect x="391.60" y="377.80" width="1.2" height="2.0" fill="#aaa"/>
<rect x="396.18" y="377.80" width="1.2" height="2.0" fill="#aaa"/>
<rect x="400.76" y="377.80" width="1.2" height="2.0" fill="#aaa"/>
<rect x="405.33" y="377.80" width="1.2" height="2.0" fill="#aaa"/>
<rect x="409.91" y="377.80" width="1.2" height="2.0" fill="#aaa"/>
<rect x="414.48" y="377.80" width="1.2" height="2.0" fill="#aaa"/>
<rect x="419.06" y="377.80" width="1.2" height="2.0" fill="#aaa"/>
<rect x="423.64" y="377.80" width="1.2" height="2.0" fill="#aaa"/>
<rect x="428.21" y="377.80" width="1.2" height="2.0" fill="#aaa"/>
<rect x="432.79" y="377.80" width="1.2" height="2.0" fill="#aaa"/>
<rect x="437.36" y="377.80" width="1.2" height="2.0" fill="#aaa"/>
<rect x="441.94" y="377.80" width="1.2" height="2.0" fill="#aaa"/>
<rect x="446.52" y="377.80" width="1.2" height="2.0" fill="#aaa"/>
<rect x="451.09" y="377.80" width="1.2" height="2.0" fill="#aaa"/>
<rect x="455.67" y="377.80" width="1.2" height="2.0" fill="#aaa"/>
<rect x="460.24" y="377.80" width="1.2" height="2.0" fill="#aaa"/>
<rect x="464.82" y="377.80" width="1.2" height="2.0" fill="#aaa"/>
<rect x="469.40" y="377.80" width="1.2" height="2.0" fill="#aaa"/>
<rect x="473.97" y="377.80" width="1.2" height="2.0" fill="#aaa"/>
<rect x="478.55" y="377.80" width="1.2" height="2.0" fill="#aaa"/>
<rect x="483.12" y="377.80" width="1.2" height="2.0" fill="#aaa"/>
<rect x="487.70" y="377.80" width="1.2" height="2.0" fill="#aaa"/>
<rect x="492.28" y="377.80" width="1.2" height="2.0" fill="#aaa"/>
<rect x="496.85" y="377.80" width="1.2" height="2.0" fill="#aaa"/>
<rect x="501.43" y="377.80" width="1.2" height="2.0" fill="#aaa"/>
<rect x="506.00" y="377.80" width="1.2" height="2.0" fill="#aaa"/>
<rect x="510.58" y="377.80" width="1.2" height="2.0" fill="#aaa"/>
<rect x="515.16" y="377.80" width="1.2" height="2.0" fill="#aaa"/>
<rect x="519.73" y="377.80" width="1.2" height="2.0" fill="#aaa"/>
<rect x="524.31" y="377.80" width="1.2" height="2.0" fill="#aaa"/>
<rect x="528.88" y="377.80" width="1.2" height="2.0" fill="#aaa"/>
<rect x="533.46" y="377.80" width="1.2" height="2.0" fill="#aaa"/>
<rect x="538.04" y="377.80" width="1.2" height="2.0" fill="#aaa"/>
<rect x="542.61" y="377.80" width="1.2" height="2.0" fill="#aaa"/>
<rect x="320.50" y="423.80" width="1.2" height="2.0" fill="#aaa"/>
<rect x="328.10" y="423.80" width="1.2" height="2.0" fill="#aaa"/>
<rect x="335.70" y="423.80" width="1.2" height="2.0" fill="#aaa"/>
<rect x="343.30" y="423.80" width="1.2" height="2.0" fill="#aaa"/>
<rect x="350.90" y="423.80" width="1.2" height="2.0" fill="#aaa"/>
<rect x="358.50" y="423.80" width="1.2" height="2.0" fill="#aaa"/>
<rect x="366.10" y="423.80" width="1.2" height="2.0" fill="#aaa"/>
<rect x="373.70" y="423.80" width="1.2" height="2.0" fill="#aaa"/>
<rect x="381.30" y="423.80" width="1.2" height="2.0" fill="#aaa"/>
<rect x="388.90" y="423.80" width="1.2" height="2.0" fill="#aaa"/>
<rect x="396.50" y="423.80" width="1.2" height="2.0" fill="#aaa"/>
<rect x="404.10" y="423.80" width="1.2" height="2.0" fill="#aaa"/>
<rect x="411.70" y="423.80" width="1.2" height="2.0" fill="#aaa"/>
<rect x="419.30" y="423.80" width="1.2" height="2.0" fill="#aaa"/>
<rect x="426.90" y="423.80" width="1.2" height="2.0" fill="#aaa"/>
<rect x="434.50" y="423.80" width="1.2" height="2.0" fill="#aaa"/>
<rect x="442.10" y="423.80" width="1.2" height="2.0" fill="#aaa"/>
<rect x="449.70" y="423.80" width="1.2" height="2.0" fill="#aaa"/>
<rect x="457.30" y="423.80" width="1.2" height="2.0" fill="#aaa"/>
<rect x="464.90" y="423.80" width="1.2" height="2.0" fill="#aaa"/>
<rect x="472.50" y="423.80" width="1.2" height="2.0" fill="#aaa"/>
<rect x="480.10" y="423.80" width="1.2" height="2.0" fill="#aaa"/>
<rect x="487.70" y="423.80" width="1.2" height="2.0" fill="#aaa"/>
<rect x="495.30" y="423.80" width="1.2" height="2.0" fill="#aaa"/>
<rect x="502.90" y="423.80" width="1.2" height="2.0" fill="#aaa"/>
<rect x="510.50" y="423.80" width="1.2" height="2.0" fill="#aaa"/>
<rect x="518.10" y="423.80" width="1.2" height="2.0" fill="#aaa"/>
<rect x="525.70" y="423.80" width="1.2" height="2.0" fill="#aaa"/>
<rect x="533.30" y="423.80" width="1.2" height="2.0" fill="#aaa"/>
<rect x="540.90" y="423.80" width="1.2" height="2.0" fill="#aaa"/>
<text transform="translate(23.5,359) rotate(-90)" font-size="3.6" font-weight="bold" fill="#444" text-anchor="middle" font-family="Liberation Serif, serif">bits</text>
<text transform="translate(23.5,403.5) rotate(-90)" font-size="3.6" font-weight="bold" fill="#444" text-anchor="middle" font-family="Liberation Serif, serif">bits</text>
<text transform="translate(23.8,454) rotate(-90)" font-size="3.6" font-weight="bold" fill="#444" text-anchor="middle" font-family="Liberation Serif, serif">bits</text>
<text transform="translate(311.3,359) rotate(-90)" font-size="3.6" font-weight="bold" fill="#444" text-anchor="middle" font-family="Liberation Serif, serif">bits</text>
<text transform="translate(311.8,406.5) rotate(-90)" font-size="3.6" font-weight="bold" fill="#444" text-anchor="middle" font-family="Liberation Serif, serif">bits</text>
<text x="29.6" y="335.1" font-size="6" font-weight="bold" fill="#3a3a3a" font-family="Liberation Serif, serif">Motif 1</text>
<text x="30.2" y="385.4" font-size="6" font-weight="bold" fill="#3a3a3a" font-family="Liberation Serif, serif">Motif 3</text>
<text x="29.5" y="432.6" font-size="6" font-weight="bold" fill="#3a3a3a" font-family="Liberation Serif, serif">Motif 5</text>
<text x="317.5" y="335.4" font-size="6" font-weight="bold" fill="#3a3a3a" font-family="Liberation Serif, serif">Motif 2</text>
<text x="317.2" y="385.4" font-size="6" font-weight="bold" fill="#3a3a3a" font-family="Liberation Serif, serif">Motif 4</text>
</svg></body></html>
